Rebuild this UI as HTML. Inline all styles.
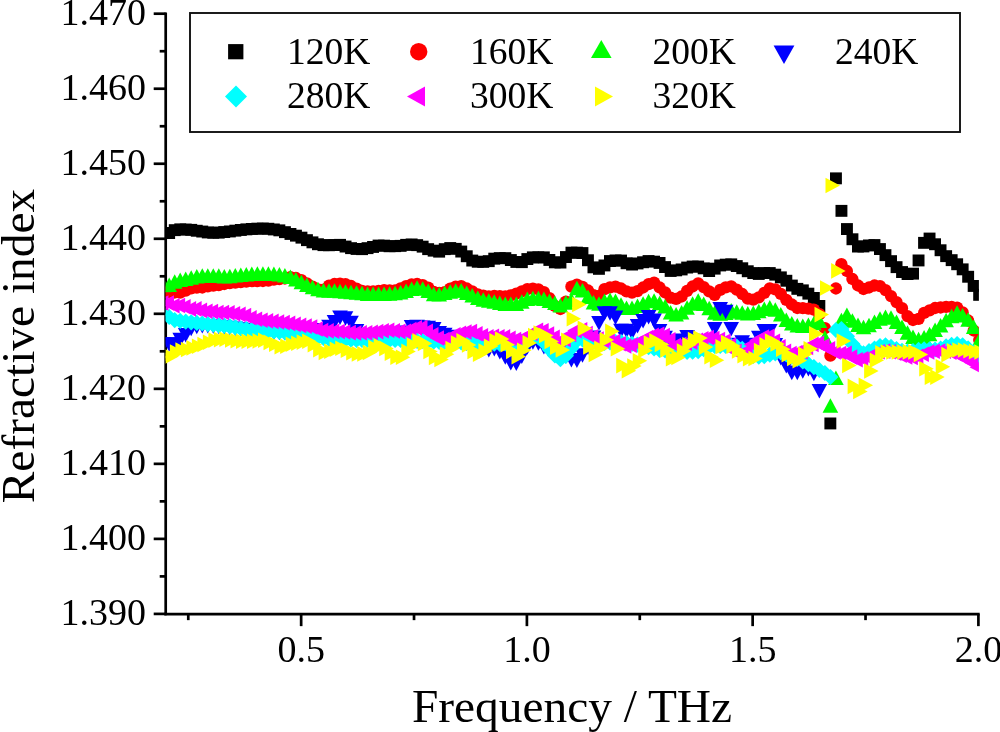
<!DOCTYPE html>
<html><head><meta charset="utf-8"><style>
html,body{margin:0;padding:0;background:#fff;}
body{width:1000px;height:732px;overflow:hidden;}
svg{display:block;}
.tl{font-family:"Liberation Serif",serif;font-size:38px;fill:#000;}
.al{font-family:"Liberation Serif",serif;font-size:47.4px;fill:#000;}
.lg{font-family:"Liberation Serif",serif;font-size:37.5px;fill:#000;}
</style></head><body>
<svg width="1000" height="732" viewBox="0 0 1000 732">
<defs><clipPath id="c"><rect x="165.7" y="0" width="813.20" height="612.8500000000006"/></clipPath></defs>
<line x1="165.7" y1="12.5" x2="165.7" y2="615.3500000000006" stroke="#000" stroke-width="2.7"/><line x1="164.39999999999998" y1="614.1500000000005" x2="979.6999999999999" y2="614.1500000000005" stroke="#000" stroke-width="2.7"/><line x1="153.7" y1="613.90" x2="165.7" y2="613.90" stroke="#000" stroke-width="2.7"/><text x="146" y="625.10" class="tl" text-anchor="end">1.390</text><line x1="153.7" y1="538.88" x2="165.7" y2="538.88" stroke="#000" stroke-width="2.7"/><text x="146" y="550.08" class="tl" text-anchor="end">1.400</text><line x1="153.7" y1="463.85" x2="165.7" y2="463.85" stroke="#000" stroke-width="2.7"/><text x="146" y="475.05" class="tl" text-anchor="end">1.410</text><line x1="153.7" y1="388.83" x2="165.7" y2="388.83" stroke="#000" stroke-width="2.7"/><text x="146" y="400.03" class="tl" text-anchor="end">1.420</text><line x1="153.7" y1="313.80" x2="165.7" y2="313.80" stroke="#000" stroke-width="2.7"/><text x="146" y="325.00" class="tl" text-anchor="end">1.430</text><line x1="153.7" y1="238.78" x2="165.7" y2="238.78" stroke="#000" stroke-width="2.7"/><text x="146" y="249.98" class="tl" text-anchor="end">1.440</text><line x1="153.7" y1="163.75" x2="165.7" y2="163.75" stroke="#000" stroke-width="2.7"/><text x="146" y="174.95" class="tl" text-anchor="end">1.450</text><line x1="153.7" y1="88.73" x2="165.7" y2="88.73" stroke="#000" stroke-width="2.7"/><text x="146" y="99.93" class="tl" text-anchor="end">1.460</text><line x1="153.7" y1="13.70" x2="165.7" y2="13.70" stroke="#000" stroke-width="2.7"/><text x="146" y="24.90" class="tl" text-anchor="end">1.470</text><line x1="159.7" y1="576.39" x2="165.7" y2="576.39" stroke="#000" stroke-width="2.7"/><line x1="159.7" y1="501.36" x2="165.7" y2="501.36" stroke="#000" stroke-width="2.7"/><line x1="159.7" y1="426.34" x2="165.7" y2="426.34" stroke="#000" stroke-width="2.7"/><line x1="159.7" y1="351.31" x2="165.7" y2="351.31" stroke="#000" stroke-width="2.7"/><line x1="159.7" y1="276.29" x2="165.7" y2="276.29" stroke="#000" stroke-width="2.7"/><line x1="159.7" y1="201.26" x2="165.7" y2="201.26" stroke="#000" stroke-width="2.7"/><line x1="159.7" y1="126.24" x2="165.7" y2="126.24" stroke="#000" stroke-width="2.7"/><line x1="159.7" y1="51.21" x2="165.7" y2="51.21" stroke="#000" stroke-width="2.7"/><line x1="301.15" y1="614.1500000000005" x2="301.15" y2="626.1500000000005" stroke="#000" stroke-width="2.7"/><text x="301.15" y="662" class="tl" text-anchor="middle">0.5</text><line x1="526.90" y1="614.1500000000005" x2="526.90" y2="626.1500000000005" stroke="#000" stroke-width="2.7"/><text x="526.90" y="662" class="tl" text-anchor="middle">1.0</text><line x1="752.65" y1="614.1500000000005" x2="752.65" y2="626.1500000000005" stroke="#000" stroke-width="2.7"/><text x="752.65" y="662" class="tl" text-anchor="middle">1.5</text><line x1="978.40" y1="614.1500000000005" x2="978.40" y2="626.1500000000005" stroke="#000" stroke-width="2.7"/><text x="978.40" y="662" class="tl" text-anchor="middle">2.0</text><line x1="188.27" y1="614.1500000000005" x2="188.27" y2="620.1500000000005" stroke="#000" stroke-width="2.7"/><line x1="414.03" y1="614.1500000000005" x2="414.03" y2="620.1500000000005" stroke="#000" stroke-width="2.7"/><line x1="639.77" y1="614.1500000000005" x2="639.77" y2="620.1500000000005" stroke="#000" stroke-width="2.7"/><line x1="865.53" y1="614.1500000000005" x2="865.53" y2="620.1500000000005" stroke="#000" stroke-width="2.7"/><text x="572" y="722" class="al" text-anchor="middle">Frequency / THz</text><text transform="translate(34,346) rotate(-90)" class="al" text-anchor="middle">Refractive index</text><rect x="190" y="13" width="770" height="119" fill="none" stroke="#111" stroke-width="1.9"/>
<g clip-path="url(#c)"><rect x="152.2" y="227.1" width="11.9" height="11.9" fill="#000"/><rect x="157.7" y="227.1" width="11.9" height="11.9" fill="#000"/><rect x="163.2" y="227.1" width="11.9" height="11.9" fill="#000"/><rect x="168.8" y="224.2" width="11.9" height="11.9" fill="#000"/><rect x="174.3" y="223.4" width="11.9" height="11.9" fill="#000"/><rect x="179.8" y="223.6" width="11.9" height="11.9" fill="#000"/><rect x="185.3" y="223.9" width="11.9" height="11.9" fill="#000"/><rect x="190.8" y="224.8" width="11.9" height="11.9" fill="#000"/><rect x="196.3" y="225.6" width="11.9" height="11.9" fill="#000"/><rect x="201.8" y="226.5" width="11.9" height="11.9" fill="#000"/><rect x="207.3" y="226.8" width="11.9" height="11.9" fill="#000"/><rect x="212.8" y="226.7" width="11.9" height="11.9" fill="#000"/><rect x="218.3" y="226.1" width="11.9" height="11.9" fill="#000"/><rect x="223.9" y="225.5" width="11.9" height="11.9" fill="#000"/><rect x="229.4" y="224.7" width="11.9" height="11.9" fill="#000"/><rect x="234.9" y="224.0" width="11.9" height="11.9" fill="#000"/><rect x="240.4" y="223.4" width="11.9" height="11.9" fill="#000"/><rect x="245.9" y="223.0" width="11.9" height="11.9" fill="#000"/><rect x="251.4" y="222.7" width="11.9" height="11.9" fill="#000"/><rect x="256.9" y="222.6" width="11.9" height="11.9" fill="#000"/><rect x="262.4" y="222.8" width="11.9" height="11.9" fill="#000"/><rect x="267.9" y="223.5" width="11.9" height="11.9" fill="#000"/><rect x="273.4" y="224.4" width="11.9" height="11.9" fill="#000"/><rect x="279.0" y="226.2" width="11.9" height="11.9" fill="#000"/><rect x="284.5" y="228.0" width="11.9" height="11.9" fill="#000"/><rect x="290.0" y="229.7" width="11.9" height="11.9" fill="#000"/><rect x="295.5" y="231.7" width="11.9" height="11.9" fill="#000"/><rect x="301.0" y="234.2" width="11.9" height="11.9" fill="#000"/><rect x="306.5" y="236.4" width="11.9" height="11.9" fill="#000"/><rect x="312.0" y="238.3" width="11.9" height="11.9" fill="#000"/><rect x="317.5" y="239.2" width="11.9" height="11.9" fill="#000"/><rect x="323.0" y="239.3" width="11.9" height="11.9" fill="#000"/><rect x="328.6" y="239.1" width="11.9" height="11.9" fill="#000"/><rect x="334.1" y="238.9" width="11.9" height="11.9" fill="#000"/><rect x="339.6" y="240.6" width="11.9" height="11.9" fill="#000"/><rect x="345.1" y="242.2" width="11.9" height="11.9" fill="#000"/><rect x="350.6" y="243.0" width="11.9" height="11.9" fill="#000"/><rect x="356.1" y="243.2" width="11.9" height="11.9" fill="#000"/><rect x="361.6" y="242.2" width="11.9" height="11.9" fill="#000"/><rect x="367.1" y="241.0" width="11.9" height="11.9" fill="#000"/><rect x="372.6" y="239.6" width="11.9" height="11.9" fill="#000"/><rect x="378.1" y="239.7" width="11.9" height="11.9" fill="#000"/><rect x="383.6" y="240.3" width="11.9" height="11.9" fill="#000"/><rect x="389.2" y="240.2" width="11.9" height="11.9" fill="#000"/><rect x="394.7" y="239.9" width="11.9" height="11.9" fill="#000"/><rect x="400.2" y="238.9" width="11.9" height="11.9" fill="#000"/><rect x="405.7" y="238.5" width="11.9" height="11.9" fill="#000"/><rect x="411.2" y="239.2" width="11.9" height="11.9" fill="#000"/><rect x="416.7" y="240.7" width="11.9" height="11.9" fill="#000"/><rect x="422.2" y="243.2" width="11.9" height="11.9" fill="#000"/><rect x="427.7" y="244.7" width="11.9" height="11.9" fill="#000"/><rect x="433.2" y="245.7" width="11.9" height="11.9" fill="#000"/><rect x="438.8" y="243.2" width="11.9" height="11.9" fill="#000"/><rect x="444.3" y="242.1" width="11.9" height="11.9" fill="#000"/><rect x="449.8" y="242.9" width="11.9" height="11.9" fill="#000"/><rect x="455.3" y="245.6" width="11.9" height="11.9" fill="#000"/><rect x="460.8" y="250.3" width="11.9" height="11.9" fill="#000"/><rect x="466.3" y="254.6" width="11.9" height="11.9" fill="#000"/><rect x="471.8" y="255.8" width="11.9" height="11.9" fill="#000"/><rect x="477.3" y="255.9" width="11.9" height="11.9" fill="#000"/><rect x="482.8" y="255.2" width="11.9" height="11.9" fill="#000"/><rect x="488.3" y="252.7" width="11.9" height="11.9" fill="#000"/><rect x="493.8" y="252.2" width="11.9" height="11.9" fill="#000"/><rect x="499.4" y="252.2" width="11.9" height="11.9" fill="#000"/><rect x="504.9" y="254.1" width="11.9" height="11.9" fill="#000"/><rect x="510.4" y="256.0" width="11.9" height="11.9" fill="#000"/><rect x="515.9" y="256.2" width="11.9" height="11.9" fill="#000"/><rect x="521.4" y="253.1" width="11.9" height="11.9" fill="#000"/><rect x="526.9" y="251.4" width="11.9" height="11.9" fill="#000"/><rect x="532.4" y="251.4" width="11.9" height="11.9" fill="#000"/><rect x="537.9" y="251.4" width="11.9" height="11.9" fill="#000"/><rect x="543.4" y="254.0" width="11.9" height="11.9" fill="#000"/><rect x="548.9" y="256.4" width="11.9" height="11.9" fill="#000"/><rect x="554.5" y="256.6" width="11.9" height="11.9" fill="#000"/><rect x="560.0" y="251.1" width="11.9" height="11.9" fill="#000"/><rect x="565.5" y="246.7" width="11.9" height="11.9" fill="#000"/><rect x="571.0" y="246.7" width="11.9" height="11.9" fill="#000"/><rect x="576.5" y="247.1" width="11.9" height="11.9" fill="#000"/><rect x="582.0" y="254.3" width="11.9" height="11.9" fill="#000"/><rect x="587.5" y="261.4" width="11.9" height="11.9" fill="#000"/><rect x="593.0" y="262.9" width="11.9" height="11.9" fill="#000"/><rect x="598.5" y="259.5" width="11.9" height="11.9" fill="#000"/><rect x="604.0" y="255.1" width="11.9" height="11.9" fill="#000"/><rect x="609.6" y="254.5" width="11.9" height="11.9" fill="#000"/><rect x="615.1" y="254.6" width="11.9" height="11.9" fill="#000"/><rect x="620.6" y="257.3" width="11.9" height="11.9" fill="#000"/><rect x="626.1" y="258.6" width="11.9" height="11.9" fill="#000"/><rect x="631.6" y="257.5" width="11.9" height="11.9" fill="#000"/><rect x="637.1" y="256.3" width="11.9" height="11.9" fill="#000"/><rect x="642.6" y="255.1" width="11.9" height="11.9" fill="#000"/><rect x="648.1" y="255.7" width="11.9" height="11.9" fill="#000"/><rect x="653.6" y="257.0" width="11.9" height="11.9" fill="#000"/><rect x="659.1" y="261.1" width="11.9" height="11.9" fill="#000"/><rect x="664.7" y="265.0" width="11.9" height="11.9" fill="#000"/><rect x="670.2" y="264.4" width="11.9" height="11.9" fill="#000"/><rect x="675.7" y="263.5" width="11.9" height="11.9" fill="#000"/><rect x="681.2" y="261.6" width="11.9" height="11.9" fill="#000"/><rect x="686.7" y="260.6" width="11.9" height="11.9" fill="#000"/><rect x="692.2" y="260.6" width="11.9" height="11.9" fill="#000"/><rect x="697.7" y="262.4" width="11.9" height="11.9" fill="#000"/><rect x="703.2" y="265.1" width="11.9" height="11.9" fill="#000"/><rect x="708.7" y="262.7" width="11.9" height="11.9" fill="#000"/><rect x="714.2" y="259.5" width="11.9" height="11.9" fill="#000"/><rect x="719.8" y="258.7" width="11.9" height="11.9" fill="#000"/><rect x="725.3" y="258.4" width="11.9" height="11.9" fill="#000"/><rect x="730.8" y="260.1" width="11.9" height="11.9" fill="#000"/><rect x="736.3" y="262.3" width="11.9" height="11.9" fill="#000"/><rect x="741.8" y="265.3" width="11.9" height="11.9" fill="#000"/><rect x="747.3" y="267.1" width="11.9" height="11.9" fill="#000"/><rect x="752.8" y="268.0" width="11.9" height="11.9" fill="#000"/><rect x="758.3" y="267.1" width="11.9" height="11.9" fill="#000"/><rect x="763.8" y="267.1" width="11.9" height="11.9" fill="#000"/><rect x="769.3" y="268.7" width="11.9" height="11.9" fill="#000"/><rect x="774.9" y="271.4" width="11.9" height="11.9" fill="#000"/><rect x="780.4" y="274.8" width="11.9" height="11.9" fill="#000"/><rect x="785.9" y="279.6" width="11.9" height="11.9" fill="#000"/><rect x="791.4" y="282.9" width="11.9" height="11.9" fill="#000"/><rect x="796.9" y="284.4" width="11.9" height="11.9" fill="#000"/><rect x="802.4" y="287.7" width="11.9" height="11.9" fill="#000"/><rect x="807.9" y="292.0" width="11.9" height="11.9" fill="#000"/><rect x="813.4" y="300.0" width="11.9" height="11.9" fill="#000"/><rect x="824.4" y="417.5" width="11.9" height="11.9" fill="#000"/><rect x="830.0" y="172.4" width="11.9" height="11.9" fill="#000"/><rect x="835.5" y="204.9" width="11.9" height="11.9" fill="#000"/><rect x="841.0" y="223.1" width="11.9" height="11.9" fill="#000"/><rect x="846.5" y="233.3" width="11.9" height="11.9" fill="#000"/><rect x="852.0" y="240.6" width="11.9" height="11.9" fill="#000"/><rect x="857.5" y="240.5" width="11.9" height="11.9" fill="#000"/><rect x="863.0" y="239.5" width="11.9" height="11.9" fill="#000"/><rect x="868.5" y="239.1" width="11.9" height="11.9" fill="#000"/><rect x="874.0" y="243.1" width="11.9" height="11.9" fill="#000"/><rect x="879.5" y="249.2" width="11.9" height="11.9" fill="#000"/><rect x="885.1" y="255.2" width="11.9" height="11.9" fill="#000"/><rect x="890.6" y="261.2" width="11.9" height="11.9" fill="#000"/><rect x="896.1" y="266.1" width="11.9" height="11.9" fill="#000"/><rect x="901.6" y="268.1" width="11.9" height="11.9" fill="#000"/><rect x="907.1" y="267.7" width="11.9" height="11.9" fill="#000"/><rect x="912.6" y="254.5" width="11.9" height="11.9" fill="#000"/><rect x="918.1" y="236.9" width="11.9" height="11.9" fill="#000"/><rect x="923.6" y="232.6" width="11.9" height="11.9" fill="#000"/><rect x="929.1" y="238.3" width="11.9" height="11.9" fill="#000"/><rect x="934.6" y="244.3" width="11.9" height="11.9" fill="#000"/><rect x="940.2" y="250.2" width="11.9" height="11.9" fill="#000"/><rect x="945.7" y="254.2" width="11.9" height="11.9" fill="#000"/><rect x="951.2" y="258.3" width="11.9" height="11.9" fill="#000"/><rect x="956.7" y="263.4" width="11.9" height="11.9" fill="#000"/><rect x="962.2" y="270.8" width="11.9" height="11.9" fill="#000"/><rect x="967.7" y="280.0" width="11.9" height="11.9" fill="#000"/><rect x="973.2" y="288.9" width="11.9" height="11.9" fill="#000"/>
<circle cx="158.2" cy="292.0" r="6.15" fill="#f00"/><circle cx="163.7" cy="292.0" r="6.15" fill="#f00"/><circle cx="169.2" cy="292.0" r="6.15" fill="#f00"/><circle cx="174.7" cy="292.5" r="6.15" fill="#f00"/><circle cx="180.2" cy="292.6" r="6.15" fill="#f00"/><circle cx="185.7" cy="290.7" r="6.15" fill="#f00"/><circle cx="191.2" cy="288.4" r="6.15" fill="#f00"/><circle cx="196.8" cy="287.7" r="6.15" fill="#f00"/><circle cx="202.3" cy="287.5" r="6.15" fill="#f00"/><circle cx="207.8" cy="286.4" r="6.15" fill="#f00"/><circle cx="213.3" cy="285.7" r="6.15" fill="#f00"/><circle cx="218.8" cy="285.1" r="6.15" fill="#f00"/><circle cx="224.3" cy="284.0" r="6.15" fill="#f00"/><circle cx="229.8" cy="283.2" r="6.15" fill="#f00"/><circle cx="235.3" cy="282.7" r="6.15" fill="#f00"/><circle cx="240.8" cy="282.2" r="6.15" fill="#f00"/><circle cx="246.3" cy="281.6" r="6.15" fill="#f00"/><circle cx="251.8" cy="281.2" r="6.15" fill="#f00"/><circle cx="257.4" cy="281.2" r="6.15" fill="#f00"/><circle cx="262.9" cy="281.0" r="6.15" fill="#f00"/><circle cx="268.4" cy="280.6" r="6.15" fill="#f00"/><circle cx="273.9" cy="279.7" r="6.15" fill="#f00"/><circle cx="279.4" cy="279.1" r="6.15" fill="#f00"/><circle cx="284.9" cy="278.5" r="6.15" fill="#f00"/><circle cx="290.4" cy="277.2" r="6.15" fill="#f00"/><circle cx="295.9" cy="278.0" r="6.15" fill="#f00"/><circle cx="301.4" cy="280.1" r="6.15" fill="#f00"/><circle cx="306.9" cy="283.4" r="6.15" fill="#f00"/><circle cx="312.5" cy="286.6" r="6.15" fill="#f00"/><circle cx="318.0" cy="289.5" r="6.15" fill="#f00"/><circle cx="323.5" cy="289.7" r="6.15" fill="#f00"/><circle cx="329.0" cy="285.7" r="6.15" fill="#f00"/><circle cx="334.5" cy="284.0" r="6.15" fill="#f00"/><circle cx="340.0" cy="283.6" r="6.15" fill="#f00"/><circle cx="345.5" cy="284.1" r="6.15" fill="#f00"/><circle cx="351.0" cy="286.0" r="6.15" fill="#f00"/><circle cx="356.5" cy="288.6" r="6.15" fill="#f00"/><circle cx="362.0" cy="291.0" r="6.15" fill="#f00"/><circle cx="367.6" cy="291.5" r="6.15" fill="#f00"/><circle cx="373.1" cy="291.4" r="6.15" fill="#f00"/><circle cx="378.6" cy="290.8" r="6.15" fill="#f00"/><circle cx="384.1" cy="290.2" r="6.15" fill="#f00"/><circle cx="389.6" cy="290.4" r="6.15" fill="#f00"/><circle cx="395.1" cy="290.5" r="6.15" fill="#f00"/><circle cx="400.6" cy="288.3" r="6.15" fill="#f00"/><circle cx="406.1" cy="286.2" r="6.15" fill="#f00"/><circle cx="411.6" cy="284.3" r="6.15" fill="#f00"/><circle cx="417.1" cy="284.0" r="6.15" fill="#f00"/><circle cx="422.7" cy="285.2" r="6.15" fill="#f00"/><circle cx="428.2" cy="287.6" r="6.15" fill="#f00"/><circle cx="433.7" cy="291.9" r="6.15" fill="#f00"/><circle cx="439.2" cy="293.0" r="6.15" fill="#f00"/><circle cx="444.7" cy="292.1" r="6.15" fill="#f00"/><circle cx="450.2" cy="288.7" r="6.15" fill="#f00"/><circle cx="455.7" cy="286.7" r="6.15" fill="#f00"/><circle cx="461.2" cy="286.1" r="6.15" fill="#f00"/><circle cx="466.7" cy="288.5" r="6.15" fill="#f00"/><circle cx="472.2" cy="291.4" r="6.15" fill="#f00"/><circle cx="477.8" cy="294.3" r="6.15" fill="#f00"/><circle cx="483.3" cy="295.6" r="6.15" fill="#f00"/><circle cx="488.8" cy="296.5" r="6.15" fill="#f00"/><circle cx="494.3" cy="296.0" r="6.15" fill="#f00"/><circle cx="499.8" cy="296.1" r="6.15" fill="#f00"/><circle cx="505.3" cy="296.5" r="6.15" fill="#f00"/><circle cx="510.8" cy="295.4" r="6.15" fill="#f00"/><circle cx="516.3" cy="293.6" r="6.15" fill="#f00"/><circle cx="521.8" cy="291.4" r="6.15" fill="#f00"/><circle cx="527.3" cy="289.2" r="6.15" fill="#f00"/><circle cx="532.9" cy="288.7" r="6.15" fill="#f00"/><circle cx="538.4" cy="289.4" r="6.15" fill="#f00"/><circle cx="543.9" cy="292.2" r="6.15" fill="#f00"/><circle cx="549.4" cy="298.1" r="6.15" fill="#f00"/><circle cx="554.9" cy="306.0" r="6.15" fill="#f00"/><circle cx="560.4" cy="309.0" r="6.15" fill="#f00"/><circle cx="565.9" cy="301.7" r="6.15" fill="#f00"/><circle cx="571.4" cy="286.7" r="6.15" fill="#f00"/><circle cx="576.9" cy="284.7" r="6.15" fill="#f00"/><circle cx="582.5" cy="286.9" r="6.15" fill="#f00"/><circle cx="588.0" cy="290.5" r="6.15" fill="#f00"/><circle cx="593.5" cy="295.2" r="6.15" fill="#f00"/><circle cx="599.0" cy="296.0" r="6.15" fill="#f00"/><circle cx="604.5" cy="289.2" r="6.15" fill="#f00"/><circle cx="610.0" cy="287.3" r="6.15" fill="#f00"/><circle cx="615.5" cy="286.7" r="6.15" fill="#f00"/><circle cx="621.0" cy="288.5" r="6.15" fill="#f00"/><circle cx="626.5" cy="291.3" r="6.15" fill="#f00"/><circle cx="632.0" cy="292.7" r="6.15" fill="#f00"/><circle cx="637.5" cy="291.1" r="6.15" fill="#f00"/><circle cx="643.1" cy="287.5" r="6.15" fill="#f00"/><circle cx="648.6" cy="284.2" r="6.15" fill="#f00"/><circle cx="654.1" cy="282.7" r="6.15" fill="#f00"/><circle cx="659.6" cy="287.5" r="6.15" fill="#f00"/><circle cx="665.1" cy="292.3" r="6.15" fill="#f00"/><circle cx="670.6" cy="297.7" r="6.15" fill="#f00"/><circle cx="676.1" cy="298.9" r="6.15" fill="#f00"/><circle cx="681.6" cy="296.5" r="6.15" fill="#f00"/><circle cx="687.1" cy="290.9" r="6.15" fill="#f00"/><circle cx="692.6" cy="286.5" r="6.15" fill="#f00"/><circle cx="698.2" cy="283.3" r="6.15" fill="#f00"/><circle cx="703.7" cy="287.1" r="6.15" fill="#f00"/><circle cx="709.2" cy="291.4" r="6.15" fill="#f00"/><circle cx="714.7" cy="294.8" r="6.15" fill="#f00"/><circle cx="720.2" cy="289.9" r="6.15" fill="#f00"/><circle cx="725.7" cy="287.3" r="6.15" fill="#f00"/><circle cx="731.2" cy="286.3" r="6.15" fill="#f00"/><circle cx="736.7" cy="289.6" r="6.15" fill="#f00"/><circle cx="742.2" cy="294.0" r="6.15" fill="#f00"/><circle cx="747.8" cy="298.7" r="6.15" fill="#f00"/><circle cx="753.3" cy="299.7" r="6.15" fill="#f00"/><circle cx="758.8" cy="297.4" r="6.15" fill="#f00"/><circle cx="764.3" cy="292.8" r="6.15" fill="#f00"/><circle cx="769.8" cy="288.4" r="6.15" fill="#f00"/><circle cx="775.3" cy="289.3" r="6.15" fill="#f00"/><circle cx="780.8" cy="293.8" r="6.15" fill="#f00"/><circle cx="786.3" cy="299.8" r="6.15" fill="#f00"/><circle cx="791.8" cy="304.5" r="6.15" fill="#f00"/><circle cx="797.3" cy="308.0" r="6.15" fill="#f00"/><circle cx="802.8" cy="308.2" r="6.15" fill="#f00"/><circle cx="808.4" cy="308.7" r="6.15" fill="#f00"/><circle cx="813.9" cy="309.6" r="6.15" fill="#f00"/><circle cx="819.4" cy="314.2" r="6.15" fill="#f00"/><circle cx="824.9" cy="328.2" r="6.15" fill="#f00"/><circle cx="830.4" cy="355.7" r="6.15" fill="#f00"/><circle cx="835.9" cy="288.5" r="6.15" fill="#f00"/><circle cx="841.4" cy="264.2" r="6.15" fill="#f00"/><circle cx="846.9" cy="271.0" r="6.15" fill="#f00"/><circle cx="852.4" cy="279.0" r="6.15" fill="#f00"/><circle cx="858.0" cy="285.5" r="6.15" fill="#f00"/><circle cx="863.5" cy="289.0" r="6.15" fill="#f00"/><circle cx="869.0" cy="287.5" r="6.15" fill="#f00"/><circle cx="874.5" cy="285.5" r="6.15" fill="#f00"/><circle cx="880.0" cy="286.1" r="6.15" fill="#f00"/><circle cx="885.5" cy="290.1" r="6.15" fill="#f00"/><circle cx="891.0" cy="296.1" r="6.15" fill="#f00"/><circle cx="896.5" cy="302.1" r="6.15" fill="#f00"/><circle cx="902.0" cy="308.2" r="6.15" fill="#f00"/><circle cx="907.5" cy="316.1" r="6.15" fill="#f00"/><circle cx="913.0" cy="320.0" r="6.15" fill="#f00"/><circle cx="918.6" cy="318.8" r="6.15" fill="#f00"/><circle cx="924.1" cy="312.9" r="6.15" fill="#f00"/><circle cx="929.6" cy="310.4" r="6.15" fill="#f00"/><circle cx="935.1" cy="308.0" r="6.15" fill="#f00"/><circle cx="940.6" cy="307.5" r="6.15" fill="#f00"/><circle cx="946.1" cy="306.8" r="6.15" fill="#f00"/><circle cx="951.6" cy="306.8" r="6.15" fill="#f00"/><circle cx="957.1" cy="307.7" r="6.15" fill="#f00"/><circle cx="962.6" cy="312.3" r="6.15" fill="#f00"/><circle cx="968.1" cy="320.5" r="6.15" fill="#f00"/><circle cx="973.7" cy="330.5" r="6.15" fill="#f00"/><circle cx="979.2" cy="340.0" r="6.15" fill="#f00"/>
<polygon points="158.2,277.8 166.0,292.2 150.4,292.2" fill="#0f0"/><polygon points="163.7,277.8 171.5,292.2 155.9,292.2" fill="#0f0"/><polygon points="169.2,277.6 177.0,292.1 161.4,292.1" fill="#0f0"/><polygon points="174.7,274.2 182.5,288.7 166.9,288.7" fill="#0f0"/><polygon points="180.2,272.4 188.0,286.9 172.4,286.9" fill="#0f0"/><polygon points="185.7,271.4 193.5,285.9 177.9,285.9" fill="#0f0"/><polygon points="191.2,270.2 199.0,284.7 183.4,284.7" fill="#0f0"/><polygon points="196.8,269.1 204.6,283.6 188.9,283.6" fill="#0f0"/><polygon points="202.3,268.2 210.1,282.8 194.5,282.8" fill="#0f0"/><polygon points="207.8,268.2 215.6,282.8 200.0,282.8" fill="#0f0"/><polygon points="213.3,268.2 221.1,282.8 205.5,282.8" fill="#0f0"/><polygon points="218.8,268.3 226.6,282.8 211.0,282.8" fill="#0f0"/><polygon points="224.3,268.9 232.1,283.4 216.5,283.4" fill="#0f0"/><polygon points="229.8,268.7 237.6,283.2 222.0,283.2" fill="#0f0"/><polygon points="235.3,268.1 243.1,282.6 227.5,282.6" fill="#0f0"/><polygon points="240.8,267.5 248.6,282.0 233.0,282.0" fill="#0f0"/><polygon points="246.3,267.0 254.1,281.5 238.5,281.5" fill="#0f0"/><polygon points="251.8,266.5 259.6,281.0 244.0,281.0" fill="#0f0"/><polygon points="257.4,266.3 265.2,280.8 249.6,280.8" fill="#0f0"/><polygon points="262.9,266.2 270.7,280.8 255.1,280.8" fill="#0f0"/><polygon points="268.4,266.3 276.2,280.8 260.6,280.8" fill="#0f0"/><polygon points="273.9,266.5 281.7,281.0 266.1,281.0" fill="#0f0"/><polygon points="279.4,267.1 287.2,281.6 271.6,281.6" fill="#0f0"/><polygon points="284.9,268.1 292.7,282.6 277.1,282.6" fill="#0f0"/><polygon points="290.4,269.5 298.2,284.0 282.6,284.0" fill="#0f0"/><polygon points="295.9,271.9 303.7,286.4 288.1,286.4" fill="#0f0"/><polygon points="301.4,274.7 309.2,289.2 293.6,289.2" fill="#0f0"/><polygon points="306.9,277.4 314.8,291.9 299.1,291.9" fill="#0f0"/><polygon points="312.5,279.7 320.3,294.2 304.7,294.2" fill="#0f0"/><polygon points="318.0,281.7 325.8,296.2 310.2,296.2" fill="#0f0"/><polygon points="323.5,282.9 331.3,297.4 315.7,297.4" fill="#0f0"/><polygon points="329.0,283.3 336.8,297.8 321.2,297.8" fill="#0f0"/><polygon points="334.5,283.3 342.3,297.8 326.7,297.8" fill="#0f0"/><polygon points="340.0,283.7 347.8,298.2 332.2,298.2" fill="#0f0"/><polygon points="345.5,284.2 353.3,298.7 337.7,298.7" fill="#0f0"/><polygon points="351.0,284.8 358.8,299.3 343.2,299.3" fill="#0f0"/><polygon points="356.5,285.3 364.3,299.8 348.7,299.8" fill="#0f0"/><polygon points="362.0,285.8 369.8,300.3 354.2,300.3" fill="#0f0"/><polygon points="367.6,286.4 375.4,300.9 359.8,300.9" fill="#0f0"/><polygon points="373.1,286.6 380.9,301.1 365.3,301.1" fill="#0f0"/><polygon points="378.6,286.6 386.4,301.1 370.8,301.1" fill="#0f0"/><polygon points="384.1,286.6 391.9,301.1 376.3,301.1" fill="#0f0"/><polygon points="389.6,286.3 397.4,300.8 381.8,300.8" fill="#0f0"/><polygon points="395.1,285.7 402.9,300.2 387.3,300.2" fill="#0f0"/><polygon points="400.6,285.1 408.4,299.6 392.8,299.6" fill="#0f0"/><polygon points="406.1,283.5 413.9,298.0 398.3,298.0" fill="#0f0"/><polygon points="411.6,281.5 419.4,296.0 403.8,296.0" fill="#0f0"/><polygon points="417.1,280.3 424.9,294.8 409.3,294.8" fill="#0f0"/><polygon points="422.7,281.2 430.5,295.7 414.9,295.7" fill="#0f0"/><polygon points="428.2,283.5 436.0,298.0 420.4,298.0" fill="#0f0"/><polygon points="433.7,286.8 441.5,301.3 425.9,301.3" fill="#0f0"/><polygon points="439.2,286.9 447.0,301.4 431.4,301.4" fill="#0f0"/><polygon points="444.7,285.6 452.5,300.1 436.9,300.1" fill="#0f0"/><polygon points="450.2,284.2 458.0,298.7 442.4,298.7" fill="#0f0"/><polygon points="455.7,283.2 463.5,297.7 447.9,297.7" fill="#0f0"/><polygon points="461.2,283.1 469.0,297.6 453.4,297.6" fill="#0f0"/><polygon points="466.7,285.5 474.5,300.0 458.9,300.0" fill="#0f0"/><polygon points="472.2,288.1 480.1,302.6 464.4,302.6" fill="#0f0"/><polygon points="477.8,290.6 485.6,305.1 470.0,305.1" fill="#0f0"/><polygon points="483.3,292.2 491.1,306.7 475.5,306.7" fill="#0f0"/><polygon points="488.8,293.3 496.6,307.8 481.0,307.8" fill="#0f0"/><polygon points="494.3,294.2 502.1,308.7 486.5,308.7" fill="#0f0"/><polygon points="499.8,295.5 507.6,310.0 492.0,310.0" fill="#0f0"/><polygon points="505.3,296.6 513.1,311.1 497.5,311.1" fill="#0f0"/><polygon points="510.8,296.6 518.6,311.1 503.0,311.1" fill="#0f0"/><polygon points="516.3,296.6 524.1,311.1 508.5,311.1" fill="#0f0"/><polygon points="521.8,294.3 529.6,308.8 514.0,308.8" fill="#0f0"/><polygon points="527.3,291.6 535.1,306.1 519.5,306.1" fill="#0f0"/><polygon points="532.9,290.8 540.7,305.2 525.1,305.2" fill="#0f0"/><polygon points="538.4,290.8 546.2,305.2 530.6,305.2" fill="#0f0"/><polygon points="543.9,291.6 551.7,306.1 536.1,306.1" fill="#0f0"/><polygon points="549.4,293.5 557.2,308.0 541.6,308.0" fill="#0f0"/><polygon points="554.9,295.6 562.7,310.1 547.1,310.1" fill="#0f0"/><polygon points="560.4,297.9 568.2,312.4 552.6,312.4" fill="#0f0"/><polygon points="565.9,295.2 573.7,309.7 558.1,309.7" fill="#0f0"/><polygon points="571.4,292.4 579.2,306.9 563.6,306.9" fill="#0f0"/><polygon points="576.9,280.7 584.7,295.2 569.1,295.2" fill="#0f0"/><polygon points="582.5,282.9 590.2,297.4 574.7,297.4" fill="#0f0"/><polygon points="588.0,289.6 595.8,304.1 580.2,304.1" fill="#0f0"/><polygon points="593.5,294.9 601.3,309.4 585.7,309.4" fill="#0f0"/><polygon points="599.0,296.2 606.8,310.7 591.2,310.7" fill="#0f0"/><polygon points="604.5,293.6 612.3,308.1 596.7,308.1" fill="#0f0"/><polygon points="610.0,292.5 617.8,307.0 602.2,307.0" fill="#0f0"/><polygon points="615.5,293.6 623.3,308.1 607.7,308.1" fill="#0f0"/><polygon points="621.0,297.2 628.8,311.7 613.2,311.7" fill="#0f0"/><polygon points="626.5,300.6 634.3,315.1 618.7,315.1" fill="#0f0"/><polygon points="632.0,300.6 639.8,315.1 624.2,315.1" fill="#0f0"/><polygon points="637.5,298.4 645.3,312.9 629.8,312.9" fill="#0f0"/><polygon points="643.1,296.2 650.9,310.7 635.3,310.7" fill="#0f0"/><polygon points="648.6,293.8 656.4,308.3 640.8,308.3" fill="#0f0"/><polygon points="654.1,293.2 661.9,307.7 646.3,307.7" fill="#0f0"/><polygon points="659.6,295.8 667.4,310.3 651.8,310.3" fill="#0f0"/><polygon points="665.1,299.1 672.9,313.6 657.3,313.6" fill="#0f0"/><polygon points="670.6,305.0 678.4,319.5 662.8,319.5" fill="#0f0"/><polygon points="676.1,306.9 683.9,321.4 668.3,321.4" fill="#0f0"/><polygon points="681.6,305.1 689.4,319.6 673.8,319.6" fill="#0f0"/><polygon points="687.1,300.2 694.9,314.7 679.3,314.7" fill="#0f0"/><polygon points="692.6,296.3 700.4,310.8 684.8,310.8" fill="#0f0"/><polygon points="698.2,293.3 706.0,307.8 690.4,307.8" fill="#0f0"/><polygon points="703.7,296.4 711.5,310.9 695.9,310.9" fill="#0f0"/><polygon points="709.2,300.7 717.0,315.2 701.4,315.2" fill="#0f0"/><polygon points="714.7,305.3 722.5,319.8 706.9,319.8" fill="#0f0"/><polygon points="720.2,306.3 728.0,320.8 712.4,320.8" fill="#0f0"/><polygon points="725.7,305.4 733.5,319.9 717.9,319.9" fill="#0f0"/><polygon points="731.2,303.1 739.0,317.6 723.4,317.6" fill="#0f0"/><polygon points="736.7,304.3 744.5,318.8 728.9,318.8" fill="#0f0"/><polygon points="742.2,305.3 750.0,319.8 734.4,319.8" fill="#0f0"/><polygon points="747.8,306.0 755.5,320.5 740.0,320.5" fill="#0f0"/><polygon points="753.3,305.4 761.1,319.9 745.5,319.9" fill="#0f0"/><polygon points="758.8,303.7 766.6,318.2 751.0,318.2" fill="#0f0"/><polygon points="764.3,301.4 772.1,315.9 756.5,315.9" fill="#0f0"/><polygon points="769.8,300.0 777.6,314.5 762.0,314.5" fill="#0f0"/><polygon points="775.3,302.2 783.1,316.7 767.5,316.7" fill="#0f0"/><polygon points="780.8,306.9 788.6,321.4 773.0,321.4" fill="#0f0"/><polygon points="786.3,312.4 794.1,326.9 778.5,326.9" fill="#0f0"/><polygon points="791.8,315.9 799.6,330.4 784.0,330.4" fill="#0f0"/><polygon points="797.3,318.0 805.1,332.5 789.5,332.5" fill="#0f0"/><polygon points="802.8,318.5 810.6,333.0 795.0,333.0" fill="#0f0"/><polygon points="808.4,317.6 816.2,332.1 800.6,332.1" fill="#0f0"/><polygon points="813.9,315.8 821.7,330.3 806.1,330.3" fill="#0f0"/><polygon points="819.4,313.5 827.2,328.0 811.6,328.0" fill="#0f0"/><polygon points="824.9,330.2 832.7,344.7 817.1,344.7" fill="#0f0"/><polygon points="830.4,398.2 838.2,412.7 822.6,412.7" fill="#0f0"/><polygon points="835.9,370.4 843.7,384.9 828.1,384.9" fill="#0f0"/><polygon points="841.4,312.7 849.2,327.2 833.6,327.2" fill="#0f0"/><polygon points="846.9,307.5 854.7,322.0 839.1,322.0" fill="#0f0"/><polygon points="852.4,313.3 860.2,327.8 844.6,327.8" fill="#0f0"/><polygon points="858.0,317.5 865.8,332.0 850.2,332.0" fill="#0f0"/><polygon points="863.5,319.7 871.3,334.2 855.7,334.2" fill="#0f0"/><polygon points="869.0,317.8 876.8,332.3 861.2,332.3" fill="#0f0"/><polygon points="874.5,314.5 882.3,329.0 866.7,329.0" fill="#0f0"/><polygon points="880.0,311.2 887.8,325.7 872.2,325.7" fill="#0f0"/><polygon points="885.5,309.6 893.3,324.1 877.7,324.1" fill="#0f0"/><polygon points="891.0,310.3 898.8,324.8 883.2,324.8" fill="#0f0"/><polygon points="896.5,314.4 904.3,328.9 888.7,328.9" fill="#0f0"/><polygon points="902.0,319.6 909.8,334.1 894.2,334.1" fill="#0f0"/><polygon points="907.5,325.2 915.3,339.7 899.7,339.7" fill="#0f0"/><polygon points="913.0,329.5 920.8,344.0 905.2,344.0" fill="#0f0"/><polygon points="918.6,331.7 926.4,346.2 910.8,346.2" fill="#0f0"/><polygon points="924.1,330.1 931.9,344.6 916.3,344.6" fill="#0f0"/><polygon points="929.6,326.7 937.4,341.2 921.8,341.2" fill="#0f0"/><polygon points="935.1,322.5 942.9,337.0 927.3,337.0" fill="#0f0"/><polygon points="940.6,318.0 948.4,332.5 932.8,332.5" fill="#0f0"/><polygon points="946.1,312.8 953.9,327.3 938.3,327.3" fill="#0f0"/><polygon points="951.6,308.7 959.4,323.2 943.8,323.2" fill="#0f0"/><polygon points="957.1,305.2 964.9,319.7 949.3,319.7" fill="#0f0"/><polygon points="962.6,308.0 970.4,322.5 954.8,322.5" fill="#0f0"/><polygon points="968.1,312.3 975.9,326.8 960.3,326.8" fill="#0f0"/><polygon points="973.7,319.4 981.5,333.9 965.9,333.9" fill="#0f0"/><polygon points="979.2,332.8 987.0,347.2 971.4,347.2" fill="#0f0"/>
<polygon points="150.4,337.2 166.0,337.2 158.2,351.8" fill="#00f"/><polygon points="155.9,337.2 171.5,337.2 163.7,351.8" fill="#00f"/><polygon points="161.4,337.2 177.0,337.2 169.2,351.8" fill="#00f"/><polygon points="166.9,337.2 182.5,337.2 174.7,351.7" fill="#00f"/><polygon points="172.4,332.7 188.0,332.7 180.2,347.2" fill="#00f"/><polygon points="177.9,328.0 193.5,328.0 185.7,342.5" fill="#00f"/><polygon points="183.4,321.7 199.0,321.7 191.2,336.2" fill="#00f"/><polygon points="188.9,319.8 204.6,319.8 196.8,334.3" fill="#00f"/><polygon points="194.5,319.1 210.1,319.1 202.3,333.6" fill="#00f"/><polygon points="200.0,319.1 215.6,319.1 207.8,333.6" fill="#00f"/><polygon points="205.5,319.2 221.1,319.2 213.3,333.7" fill="#00f"/><polygon points="211.0,319.7 226.6,319.7 218.8,334.2" fill="#00f"/><polygon points="216.5,320.2 232.1,320.2 224.3,334.7" fill="#00f"/><polygon points="222.0,320.7 237.6,320.7 229.8,335.2" fill="#00f"/><polygon points="227.5,321.5 243.1,321.5 235.3,336.0" fill="#00f"/><polygon points="233.0,322.2 248.6,322.2 240.8,336.7" fill="#00f"/><polygon points="238.5,322.9 254.1,322.9 246.3,337.4" fill="#00f"/><polygon points="244.0,323.7 259.6,323.7 251.8,338.2" fill="#00f"/><polygon points="249.6,324.4 265.2,324.4 257.4,338.9" fill="#00f"/><polygon points="255.1,324.9 270.7,324.9 262.9,339.4" fill="#00f"/><polygon points="260.6,325.2 276.2,325.2 268.4,339.7" fill="#00f"/><polygon points="266.1,325.4 281.7,325.4 273.9,339.9" fill="#00f"/><polygon points="271.6,325.7 287.2,325.7 279.4,340.2" fill="#00f"/><polygon points="277.1,326.0 292.7,326.0 284.9,340.5" fill="#00f"/><polygon points="282.6,326.3 298.2,326.3 290.4,340.8" fill="#00f"/><polygon points="288.1,326.5 303.7,326.5 295.9,341.0" fill="#00f"/><polygon points="293.6,326.5 309.2,326.5 301.4,341.0" fill="#00f"/><polygon points="299.1,325.6 314.8,325.6 306.9,340.1" fill="#00f"/><polygon points="304.7,324.8 320.3,324.8 312.5,339.3" fill="#00f"/><polygon points="310.2,323.9 325.8,323.9 318.0,338.4" fill="#00f"/><polygon points="315.7,323.0 331.3,323.0 323.5,337.5" fill="#00f"/><polygon points="321.2,319.8 336.8,319.8 329.0,334.3" fill="#00f"/><polygon points="326.7,315.0 342.3,315.0 334.5,329.5" fill="#00f"/><polygon points="332.2,310.6 347.8,310.6 340.0,325.1" fill="#00f"/><polygon points="337.7,311.2 353.3,311.2 345.5,325.7" fill="#00f"/><polygon points="343.2,315.7 358.8,315.7 351.0,330.2" fill="#00f"/><polygon points="348.7,324.1 364.3,324.1 356.5,338.6" fill="#00f"/><polygon points="354.2,328.5 369.8,328.5 362.0,343.0" fill="#00f"/><polygon points="359.8,329.8 375.4,329.8 367.6,344.2" fill="#00f"/><polygon points="365.3,329.8 380.9,329.8 373.1,344.2" fill="#00f"/><polygon points="370.8,329.8 386.4,329.8 378.6,344.2" fill="#00f"/><polygon points="376.3,329.8 391.9,329.8 384.1,344.2" fill="#00f"/><polygon points="381.8,329.8 397.4,329.8 389.6,344.2" fill="#00f"/><polygon points="387.3,329.8 402.9,329.8 395.1,344.2" fill="#00f"/><polygon points="392.8,329.3 408.4,329.3 400.6,343.8" fill="#00f"/><polygon points="398.3,325.6 413.9,325.6 406.1,340.1" fill="#00f"/><polygon points="403.8,320.1 419.4,320.1 411.6,334.6" fill="#00f"/><polygon points="409.3,319.8 424.9,319.8 417.1,334.2" fill="#00f"/><polygon points="414.9,320.5 430.5,320.5 422.7,335.0" fill="#00f"/><polygon points="420.4,320.8 436.0,320.8 428.2,335.2" fill="#00f"/><polygon points="425.9,322.1 441.5,322.1 433.7,336.6" fill="#00f"/><polygon points="431.4,326.1 447.0,326.1 439.2,340.6" fill="#00f"/><polygon points="436.9,327.7 452.5,327.7 444.7,342.2" fill="#00f"/><polygon points="442.4,329.8 458.0,329.8 450.2,344.3" fill="#00f"/><polygon points="447.9,332.0 463.5,332.0 455.7,346.5" fill="#00f"/><polygon points="453.4,334.2 469.0,334.2 461.2,348.7" fill="#00f"/><polygon points="458.9,336.4 474.5,336.4 466.7,350.9" fill="#00f"/><polygon points="464.4,338.4 480.1,338.4 472.2,352.9" fill="#00f"/><polygon points="470.0,340.0 485.6,340.0 477.8,354.5" fill="#00f"/><polygon points="475.5,341.6 491.1,341.6 483.3,356.1" fill="#00f"/><polygon points="481.0,343.1 496.6,343.1 488.8,357.6" fill="#00f"/><polygon points="486.5,342.1 502.1,342.1 494.3,356.6" fill="#00f"/><polygon points="492.0,345.0 507.6,345.0 499.8,359.5" fill="#00f"/><polygon points="497.5,350.2 513.1,350.2 505.3,364.7" fill="#00f"/><polygon points="503.0,356.1 518.6,356.1 510.8,370.6" fill="#00f"/><polygon points="508.5,356.5 524.1,356.5 516.3,371.0" fill="#00f"/><polygon points="514.0,349.4 529.6,349.4 521.8,363.9" fill="#00f"/><polygon points="519.5,340.2 535.1,340.2 527.3,354.7" fill="#00f"/><polygon points="525.1,335.3 540.7,335.3 532.9,349.8" fill="#00f"/><polygon points="530.6,336.3 546.2,336.3 538.4,350.8" fill="#00f"/><polygon points="536.1,340.0 551.7,340.0 543.9,354.5" fill="#00f"/><polygon points="541.6,341.9 557.2,341.9 549.4,356.4" fill="#00f"/><polygon points="547.1,343.4 562.7,343.4 554.9,357.9" fill="#00f"/><polygon points="552.6,345.1 568.2,345.1 560.4,359.6" fill="#00f"/><polygon points="558.1,349.2 573.7,349.2 565.9,363.7" fill="#00f"/><polygon points="563.6,353.1 579.2,353.1 571.4,367.6" fill="#00f"/><polygon points="569.1,353.6 584.7,353.6 576.9,368.1" fill="#00f"/><polygon points="574.7,348.2 590.2,348.2 582.5,362.7" fill="#00f"/><polygon points="580.2,340.6 595.8,340.6 588.0,355.1" fill="#00f"/><polygon points="585.7,330.4 601.3,330.4 593.5,344.9" fill="#00f"/><polygon points="591.2,316.0 606.8,316.0 599.0,330.5" fill="#00f"/><polygon points="596.7,306.2 612.3,306.2 604.5,320.8" fill="#00f"/><polygon points="602.2,306.2 617.8,306.2 610.0,320.8" fill="#00f"/><polygon points="607.7,310.4 623.3,310.4 615.5,324.9" fill="#00f"/><polygon points="613.2,323.8 628.8,323.8 621.0,338.2" fill="#00f"/><polygon points="618.7,323.8 634.3,323.8 626.5,338.2" fill="#00f"/><polygon points="624.2,325.5 639.8,325.5 632.0,340.0" fill="#00f"/><polygon points="629.8,318.9 645.3,318.9 637.5,333.4" fill="#00f"/><polygon points="635.3,314.1 650.9,314.1 643.1,328.6" fill="#00f"/><polygon points="640.8,310.1 656.4,310.1 648.6,324.6" fill="#00f"/><polygon points="646.3,313.5 661.9,313.5 654.1,328.0" fill="#00f"/><polygon points="651.8,324.0 667.4,324.0 659.6,338.5" fill="#00f"/><polygon points="657.3,330.7 672.9,330.7 665.1,345.2" fill="#00f"/><polygon points="662.8,334.8 678.4,334.8 670.6,349.2" fill="#00f"/><polygon points="668.3,334.7 683.9,334.7 676.1,349.2" fill="#00f"/><polygon points="673.8,333.5 689.4,333.5 681.6,348.0" fill="#00f"/><polygon points="679.3,330.1 694.9,330.1 687.1,344.6" fill="#00f"/><polygon points="684.8,333.7 700.4,333.7 692.6,348.2" fill="#00f"/><polygon points="690.4,335.7 706.0,335.7 698.2,350.2" fill="#00f"/><polygon points="695.9,338.7 711.5,338.7 703.7,353.2" fill="#00f"/><polygon points="701.4,337.8 717.0,337.8 709.2,352.3" fill="#00f"/><polygon points="706.9,322.1 722.5,322.1 714.7,336.6" fill="#00f"/><polygon points="712.4,302.1 728.0,302.1 720.2,316.6" fill="#00f"/><polygon points="717.9,304.8 733.5,304.8 725.7,319.3" fill="#00f"/><polygon points="723.4,322.1 739.0,322.1 731.2,336.6" fill="#00f"/><polygon points="728.9,337.7 744.5,337.7 736.7,352.2" fill="#00f"/><polygon points="734.4,335.3 750.0,335.3 742.2,349.8" fill="#00f"/><polygon points="740.0,338.7 755.5,338.7 747.8,353.2" fill="#00f"/><polygon points="745.5,337.7 761.1,337.7 753.3,352.2" fill="#00f"/><polygon points="751.0,330.7 766.6,330.7 758.8,345.2" fill="#00f"/><polygon points="756.5,324.1 772.1,324.1 764.3,338.6" fill="#00f"/><polygon points="762.0,324.1 777.6,324.1 769.8,338.6" fill="#00f"/><polygon points="767.5,338.0 783.1,338.0 775.3,352.5" fill="#00f"/><polygon points="773.0,350.9 788.6,350.9 780.8,365.4" fill="#00f"/><polygon points="778.5,358.9 794.1,358.9 786.3,373.4" fill="#00f"/><polygon points="784.0,365.8 799.6,365.8 791.8,380.2" fill="#00f"/><polygon points="789.5,365.7 805.1,365.7 797.3,380.2" fill="#00f"/><polygon points="795.0,364.3 810.6,364.3 802.8,378.8" fill="#00f"/><polygon points="800.6,362.1 816.2,362.1 808.4,376.6" fill="#00f"/><polygon points="806.1,366.7 821.7,366.7 813.9,381.2" fill="#00f"/><polygon points="811.6,384.0 827.2,384.0 819.4,398.5" fill="#00f"/>
<polygon points="158.2,306.9 166.3,315.0 158.2,323.1 150.1,315.0" fill="#0ff"/><polygon points="163.7,306.9 171.8,315.0 163.7,323.1 155.6,315.0" fill="#0ff"/><polygon points="169.2,308.9 177.3,317.0 169.2,325.1 161.1,317.0" fill="#0ff"/><polygon points="174.7,312.0 182.8,320.1 174.7,328.2 166.6,320.1" fill="#0ff"/><polygon points="180.2,312.8 188.3,320.9 180.2,329.0 172.1,320.9" fill="#0ff"/><polygon points="185.7,313.6 193.8,321.7 185.7,329.8 177.6,321.7" fill="#0ff"/><polygon points="191.2,314.2 199.3,322.3 191.2,330.4 183.1,322.3" fill="#0ff"/><polygon points="196.8,314.8 204.8,322.9 196.8,331.0 188.7,322.9" fill="#0ff"/><polygon points="202.3,315.4 210.4,323.5 202.3,331.6 194.2,323.5" fill="#0ff"/><polygon points="207.8,316.0 215.9,324.1 207.8,332.2 199.7,324.1" fill="#0ff"/><polygon points="213.3,316.6 221.4,324.7 213.3,332.8 205.2,324.7" fill="#0ff"/><polygon points="218.8,317.2 226.9,325.3 218.8,333.4 210.7,325.3" fill="#0ff"/><polygon points="224.3,317.7 232.4,325.8 224.3,333.9 216.2,325.8" fill="#0ff"/><polygon points="229.8,318.2 237.9,326.3 229.8,334.4 221.7,326.3" fill="#0ff"/><polygon points="235.3,319.2 243.4,327.3 235.3,335.4 227.2,327.3" fill="#0ff"/><polygon points="240.8,320.3 248.9,328.4 240.8,336.5 232.7,328.4" fill="#0ff"/><polygon points="246.3,321.1 254.4,329.2 246.3,337.3 238.2,329.2" fill="#0ff"/><polygon points="251.8,321.5 259.9,329.6 251.8,337.7 243.7,329.6" fill="#0ff"/><polygon points="257.4,321.9 265.5,330.0 257.4,338.1 249.3,330.0" fill="#0ff"/><polygon points="262.9,322.3 271.0,330.4 262.9,338.5 254.8,330.4" fill="#0ff"/><polygon points="268.4,322.8 276.5,330.9 268.4,339.0 260.3,330.9" fill="#0ff"/><polygon points="273.9,323.3 282.0,331.4 273.9,339.5 265.8,331.4" fill="#0ff"/><polygon points="279.4,323.8 287.5,331.9 279.4,340.0 271.3,331.9" fill="#0ff"/><polygon points="284.9,324.4 293.0,332.5 284.9,340.6 276.8,332.5" fill="#0ff"/><polygon points="290.4,325.0 298.5,333.1 290.4,341.2 282.3,333.1" fill="#0ff"/><polygon points="295.9,325.8 304.0,333.9 295.9,342.0 287.8,333.9" fill="#0ff"/><polygon points="301.4,326.6 309.5,334.7 301.4,342.8 293.3,334.7" fill="#0ff"/><polygon points="306.9,327.4 315.1,335.5 306.9,343.6 298.8,335.5" fill="#0ff"/><polygon points="312.5,328.3 320.6,336.4 312.5,344.5 304.4,336.4" fill="#0ff"/><polygon points="318.0,329.1 326.1,337.2 318.0,345.3 309.9,337.2" fill="#0ff"/><polygon points="323.5,329.9 331.6,338.0 323.5,346.1 315.4,338.0" fill="#0ff"/><polygon points="329.0,330.7 337.1,338.8 329.0,346.9 320.9,338.8" fill="#0ff"/><polygon points="334.5,331.0 342.6,339.1 334.5,347.2 326.4,339.1" fill="#0ff"/><polygon points="340.0,331.2 348.1,339.3 340.0,347.4 331.9,339.3" fill="#0ff"/><polygon points="345.5,331.4 353.6,339.5 345.5,347.6 337.4,339.5" fill="#0ff"/><polygon points="351.0,331.6 359.1,339.7 351.0,347.8 342.9,339.7" fill="#0ff"/><polygon points="356.5,331.8 364.6,339.9 356.5,348.0 348.4,339.9" fill="#0ff"/><polygon points="362.0,331.9 370.1,340.0 362.0,348.1 353.9,340.0" fill="#0ff"/><polygon points="367.6,331.9 375.7,340.0 367.6,348.1 359.5,340.0" fill="#0ff"/><polygon points="373.1,331.9 381.2,340.0 373.1,348.1 365.0,340.0" fill="#0ff"/><polygon points="378.6,331.9 386.7,340.0 378.6,348.1 370.5,340.0" fill="#0ff"/><polygon points="384.1,331.9 392.2,340.0 384.1,348.1 376.0,340.0" fill="#0ff"/><polygon points="389.6,331.9 397.7,340.0 389.6,348.1 381.5,340.0" fill="#0ff"/><polygon points="395.1,331.9 403.2,340.0 395.1,348.1 387.0,340.0" fill="#0ff"/><polygon points="400.6,331.9 408.7,340.0 400.6,348.1 392.5,340.0" fill="#0ff"/><polygon points="406.1,332.2 414.2,340.3 406.1,348.4 398.0,340.3" fill="#0ff"/><polygon points="411.6,332.5 419.7,340.6 411.6,348.7 403.5,340.6" fill="#0ff"/><polygon points="417.1,332.8 425.2,340.9 417.1,349.0 409.0,340.9" fill="#0ff"/><polygon points="422.7,333.0 430.8,341.1 422.7,349.2 414.6,341.1" fill="#0ff"/><polygon points="428.2,333.3 436.3,341.4 428.2,349.5 420.1,341.4" fill="#0ff"/><polygon points="433.7,333.6 441.8,341.7 433.7,349.8 425.6,341.7" fill="#0ff"/><polygon points="439.2,333.9 447.3,342.0 439.2,350.1 431.1,342.0" fill="#0ff"/><polygon points="444.7,334.0 452.8,342.1 444.7,350.2 436.6,342.1" fill="#0ff"/><polygon points="450.2,334.2 458.3,342.3 450.2,350.4 442.1,342.3" fill="#0ff"/><polygon points="455.7,334.3 463.8,342.4 455.7,350.5 447.6,342.4" fill="#0ff"/><polygon points="461.2,334.4 469.3,342.5 461.2,350.6 453.1,342.5" fill="#0ff"/><polygon points="466.7,334.6 474.8,342.7 466.7,350.8 458.6,342.7" fill="#0ff"/><polygon points="472.2,334.7 480.4,342.8 472.2,350.9 464.1,342.8" fill="#0ff"/><polygon points="477.8,334.8 485.9,342.9 477.8,351.0 469.7,342.9" fill="#0ff"/><polygon points="483.3,335.1 491.4,343.2 483.3,351.3 475.2,343.2" fill="#0ff"/><polygon points="488.8,335.3 496.9,343.4 488.8,351.5 480.7,343.4" fill="#0ff"/><polygon points="494.3,335.6 502.4,343.7 494.3,351.8 486.2,343.7" fill="#0ff"/><polygon points="499.8,335.9 507.9,344.0 499.8,352.1 491.7,344.0" fill="#0ff"/><polygon points="505.3,335.4 513.4,343.5 505.3,351.6 497.2,343.5" fill="#0ff"/><polygon points="510.8,334.8 518.9,342.9 510.8,351.0 502.7,342.9" fill="#0ff"/><polygon points="516.3,334.2 524.4,342.3 516.3,350.4 508.2,342.3" fill="#0ff"/><polygon points="521.8,333.6 529.9,341.7 521.8,349.8 513.7,341.7" fill="#0ff"/><polygon points="527.3,333.1 535.4,341.2 527.3,349.3 519.2,341.2" fill="#0ff"/><polygon points="532.9,329.2 541.0,337.3 532.9,345.4 524.8,337.3" fill="#0ff"/><polygon points="538.4,329.2 546.5,337.3 538.4,345.4 530.3,337.3" fill="#0ff"/><polygon points="543.9,334.5 552.0,342.6 543.9,350.7 535.8,342.6" fill="#0ff"/><polygon points="549.4,341.2 557.5,349.3 549.4,357.4 541.3,349.3" fill="#0ff"/><polygon points="554.9,347.4 563.0,355.5 554.9,363.6 546.8,355.5" fill="#0ff"/><polygon points="560.4,351.1 568.5,359.2 560.4,367.3 552.3,359.2" fill="#0ff"/><polygon points="565.9,347.7 574.0,355.8 565.9,363.9 557.8,355.8" fill="#0ff"/><polygon points="571.4,340.2 579.5,348.3 571.4,356.4 563.3,348.3" fill="#0ff"/><polygon points="576.9,332.5 585.0,340.6 576.9,348.7 568.8,340.6" fill="#0ff"/><polygon points="582.5,331.4 590.6,339.5 582.5,347.6 574.4,339.5" fill="#0ff"/><polygon points="588.0,332.5 596.1,340.6 588.0,348.7 579.9,340.6" fill="#0ff"/><polygon points="593.5,333.6 601.6,341.7 593.5,349.8 585.4,341.7" fill="#0ff"/><polygon points="599.0,334.7 607.1,342.8 599.0,350.9 590.9,342.8" fill="#0ff"/><polygon points="604.5,334.7 612.6,342.8 604.5,350.9 596.4,342.8" fill="#0ff"/><polygon points="610.0,334.4 618.1,342.5 610.0,350.6 601.9,342.5" fill="#0ff"/><polygon points="615.5,334.1 623.6,342.2 615.5,350.3 607.4,342.2" fill="#0ff"/><polygon points="621.0,334.1 629.1,342.2 621.0,350.3 612.9,342.2" fill="#0ff"/><polygon points="626.5,334.9 634.6,343.0 626.5,351.1 618.4,343.0" fill="#0ff"/><polygon points="632.0,335.7 640.1,343.8 632.0,351.9 623.9,343.8" fill="#0ff"/><polygon points="637.5,336.5 645.6,344.6 637.5,352.7 629.4,344.6" fill="#0ff"/><polygon points="643.1,337.7 651.2,345.8 643.1,353.9 635.0,345.8" fill="#0ff"/><polygon points="648.6,339.0 656.7,347.1 648.6,355.2 640.5,347.1" fill="#0ff"/><polygon points="654.1,340.4 662.2,348.5 654.1,356.6 646.0,348.5" fill="#0ff"/><polygon points="659.6,341.8 667.7,349.9 659.6,358.0 651.5,349.9" fill="#0ff"/><polygon points="665.1,342.2 673.2,350.3 665.1,358.4 657.0,350.3" fill="#0ff"/><polygon points="670.6,342.6 678.7,350.7 670.6,358.8 662.5,350.7" fill="#0ff"/><polygon points="676.1,343.0 684.2,351.1 676.1,359.2 668.0,351.1" fill="#0ff"/><polygon points="681.6,343.3 689.7,351.4 681.6,359.5 673.5,351.4" fill="#0ff"/><polygon points="687.1,343.7 695.2,351.8 687.1,359.9 679.0,351.8" fill="#0ff"/><polygon points="692.6,343.6 700.7,351.7 692.6,359.8 684.5,351.7" fill="#0ff"/><polygon points="698.2,343.1 706.3,351.2 698.2,359.3 690.1,351.2" fill="#0ff"/><polygon points="703.7,341.1 711.8,349.2 703.7,357.3 695.6,349.2" fill="#0ff"/><polygon points="709.2,338.3 717.3,346.4 709.2,354.5 701.1,346.4" fill="#0ff"/><polygon points="714.7,337.9 722.8,346.0 714.7,354.1 706.6,346.0" fill="#0ff"/><polygon points="720.2,337.9 728.3,346.0 720.2,354.1 712.1,346.0" fill="#0ff"/><polygon points="725.7,337.9 733.8,346.0 725.7,354.1 717.6,346.0" fill="#0ff"/><polygon points="731.2,337.9 739.3,346.0 731.2,354.1 723.1,346.0" fill="#0ff"/><polygon points="736.7,338.6 744.8,346.7 736.7,354.8 728.6,346.7" fill="#0ff"/><polygon points="742.2,340.8 750.3,348.9 742.2,357.0 734.1,348.9" fill="#0ff"/><polygon points="747.8,343.8 755.9,351.9 747.8,360.0 739.6,351.9" fill="#0ff"/><polygon points="753.3,347.7 761.4,355.8 753.3,363.9 745.2,355.8" fill="#0ff"/><polygon points="758.8,348.5 766.9,356.6 758.8,364.7 750.7,356.6" fill="#0ff"/><polygon points="764.3,348.0 772.4,356.1 764.3,364.2 756.2,356.1" fill="#0ff"/><polygon points="769.8,346.6 777.9,354.7 769.8,362.8 761.7,354.7" fill="#0ff"/><polygon points="775.3,345.2 783.4,353.3 775.3,361.4 767.2,353.3" fill="#0ff"/><polygon points="780.8,344.2 788.9,352.3 780.8,360.4 772.7,352.3" fill="#0ff"/><polygon points="786.3,346.4 794.4,354.5 786.3,362.6 778.2,354.5" fill="#0ff"/><polygon points="791.8,348.6 799.9,356.7 791.8,364.8 783.7,356.7" fill="#0ff"/><polygon points="797.3,350.8 805.4,358.9 797.3,367.0 789.2,358.9" fill="#0ff"/><polygon points="802.8,353.3 810.9,361.4 802.8,369.5 794.7,361.4" fill="#0ff"/><polygon points="808.4,356.1 816.5,364.2 808.4,372.3 800.3,364.2" fill="#0ff"/><polygon points="813.9,359.0 822.0,367.1 813.9,375.2 805.8,367.1" fill="#0ff"/><polygon points="819.4,361.9 827.5,370.0 819.4,378.1 811.3,370.0" fill="#0ff"/><polygon points="824.9,364.9 833.0,373.0 824.9,381.1 816.8,373.0" fill="#0ff"/><polygon points="830.4,368.9 838.5,377.0 830.4,385.1 822.3,377.0" fill="#0ff"/><polygon points="835.9,321.9 844.0,330.0 835.9,338.1 827.8,330.0" fill="#0ff"/><polygon points="841.4,320.9 849.5,329.0 841.4,337.1 833.3,329.0" fill="#0ff"/><polygon points="846.9,328.2 855.0,336.3 846.9,344.4 838.8,336.3" fill="#0ff"/><polygon points="852.4,335.8 860.5,343.9 852.4,352.0 844.3,343.9" fill="#0ff"/><polygon points="858.0,342.2 866.1,350.3 858.0,358.4 849.9,350.3" fill="#0ff"/><polygon points="863.5,345.2 871.6,353.3 863.5,361.4 855.4,353.3" fill="#0ff"/><polygon points="869.0,343.1 877.1,351.2 869.0,359.3 860.9,351.2" fill="#0ff"/><polygon points="874.5,340.4 882.6,348.5 874.5,356.6 866.4,348.5" fill="#0ff"/><polygon points="880.0,338.0 888.1,346.1 880.0,354.2 871.9,346.1" fill="#0ff"/><polygon points="885.5,337.2 893.6,345.3 885.5,353.4 877.4,345.3" fill="#0ff"/><polygon points="891.0,338.8 899.1,346.9 891.0,355.0 882.9,346.9" fill="#0ff"/><polygon points="896.5,341.0 904.6,349.1 896.5,357.2 888.4,349.1" fill="#0ff"/><polygon points="902.0,342.8 910.1,350.9 902.0,359.0 893.9,350.9" fill="#0ff"/><polygon points="907.5,343.6 915.6,351.7 907.5,359.8 899.4,351.7" fill="#0ff"/><polygon points="913.0,343.0 921.1,351.1 913.0,359.2 904.9,351.1" fill="#0ff"/><polygon points="918.6,341.8 926.7,349.9 918.6,358.0 910.5,349.9" fill="#0ff"/><polygon points="924.1,341.2 932.2,349.3 924.1,357.4 916.0,349.3" fill="#0ff"/><polygon points="929.6,341.2 937.7,349.3 929.6,357.4 921.5,349.3" fill="#0ff"/><polygon points="935.1,341.4 943.2,349.5 935.1,357.6 927.0,349.5" fill="#0ff"/><polygon points="940.6,340.4 948.7,348.5 940.6,356.6 932.5,348.5" fill="#0ff"/><polygon points="946.1,338.3 954.2,346.4 946.1,354.5 938.0,346.4" fill="#0ff"/><polygon points="951.6,336.7 959.7,344.8 951.6,352.9 943.5,344.8" fill="#0ff"/><polygon points="957.1,336.0 965.2,344.1 957.1,352.2 949.0,344.1" fill="#0ff"/><polygon points="962.6,337.2 970.7,345.3 962.6,353.4 954.5,345.3" fill="#0ff"/><polygon points="968.1,340.3 976.2,348.4 968.1,356.5 960.0,348.4" fill="#0ff"/><polygon points="973.7,344.2 981.8,352.3 973.7,360.4 965.6,352.3" fill="#0ff"/><polygon points="979.2,347.4 987.3,355.5 979.2,363.6 971.1,355.5" fill="#0ff"/>
<polygon points="148.5,303.0 163.0,295.2 163.0,310.8" fill="#f0f"/><polygon points="154.0,303.0 168.5,295.2 168.5,310.8" fill="#f0f"/><polygon points="159.5,303.0 174.0,295.2 174.0,310.8" fill="#f0f"/><polygon points="165.1,305.7 179.6,297.9 179.6,313.5" fill="#f0f"/><polygon points="170.6,305.5 185.1,297.7 185.1,313.3" fill="#f0f"/><polygon points="176.1,306.7 190.6,298.9 190.6,314.5" fill="#f0f"/><polygon points="181.6,308.9 196.1,301.1 196.1,316.7" fill="#f0f"/><polygon points="187.1,308.9 201.6,301.1 201.6,316.7" fill="#f0f"/><polygon points="192.6,310.4 207.1,302.6 207.1,318.2" fill="#f0f"/><polygon points="198.1,311.2 212.6,303.4 212.6,319.0" fill="#f0f"/><polygon points="203.6,311.6 218.1,303.8 218.1,319.4" fill="#f0f"/><polygon points="209.1,312.5 223.6,304.7 223.6,320.3" fill="#f0f"/><polygon points="214.6,312.5 229.1,304.7 229.1,320.3" fill="#f0f"/><polygon points="220.2,312.8 234.7,305.0 234.7,320.6" fill="#f0f"/><polygon points="225.7,313.7 240.2,305.9 240.2,321.5" fill="#f0f"/><polygon points="231.2,314.4 245.7,306.6 245.7,322.2" fill="#f0f"/><polygon points="236.7,315.6 251.2,307.8 251.2,323.4" fill="#f0f"/><polygon points="242.2,317.8 256.7,310.0 256.7,325.6" fill="#f0f"/><polygon points="247.7,319.2 262.2,311.4 262.2,327.0" fill="#f0f"/><polygon points="253.2,320.3 267.7,312.5 267.7,328.1" fill="#f0f"/><polygon points="258.7,320.9 273.2,313.1 273.2,328.7" fill="#f0f"/><polygon points="264.2,321.4 278.7,313.6 278.7,329.2" fill="#f0f"/><polygon points="269.8,322.0 284.2,314.2 284.2,329.8" fill="#f0f"/><polygon points="275.3,322.6 289.8,314.8 289.8,330.4" fill="#f0f"/><polygon points="280.8,323.4 295.3,315.6 295.3,331.2" fill="#f0f"/><polygon points="286.3,324.4 300.8,316.6 300.8,332.2" fill="#f0f"/><polygon points="291.8,325.4 306.3,317.6 306.3,333.2" fill="#f0f"/><polygon points="297.3,326.1 311.8,318.3 311.8,333.9" fill="#f0f"/><polygon points="302.8,327.0 317.3,319.2 317.3,334.8" fill="#f0f"/><polygon points="308.3,329.0 322.8,321.2 322.8,336.8" fill="#f0f"/><polygon points="313.8,330.6 328.3,322.8 328.3,338.4" fill="#f0f"/><polygon points="319.3,330.9 333.8,323.1 333.8,338.7" fill="#f0f"/><polygon points="324.9,331.2 339.4,323.4 339.4,339.0" fill="#f0f"/><polygon points="330.4,331.5 344.9,323.7 344.9,339.3" fill="#f0f"/><polygon points="335.9,332.0 350.4,324.2 350.4,339.8" fill="#f0f"/><polygon points="341.4,332.6 355.9,324.8 355.9,340.4" fill="#f0f"/><polygon points="346.9,333.0 361.4,325.2 361.4,340.8" fill="#f0f"/><polygon points="352.4,332.8 366.9,325.0 366.9,340.6" fill="#f0f"/><polygon points="357.9,332.7 372.4,324.9 372.4,340.5" fill="#f0f"/><polygon points="363.4,332.4 377.9,324.6 377.9,340.2" fill="#f0f"/><polygon points="368.9,331.6 383.4,323.8 383.4,339.4" fill="#f0f"/><polygon points="374.4,330.8 388.9,323.0 388.9,338.6" fill="#f0f"/><polygon points="379.9,330.3 394.4,322.5 394.4,338.1" fill="#f0f"/><polygon points="385.5,330.9 400.0,323.1 400.0,338.7" fill="#f0f"/><polygon points="391.0,331.4 405.5,323.6 405.5,339.2" fill="#f0f"/><polygon points="396.5,331.4 411.0,323.6 411.0,339.2" fill="#f0f"/><polygon points="402.0,329.5 416.5,321.7 416.5,337.3" fill="#f0f"/><polygon points="407.5,327.9 422.0,320.1 422.0,335.7" fill="#f0f"/><polygon points="413.0,327.6 427.5,319.8 427.5,335.4" fill="#f0f"/><polygon points="418.5,331.2 433.0,323.4 433.0,339.0" fill="#f0f"/><polygon points="424.0,334.8 438.5,327.0 438.5,342.6" fill="#f0f"/><polygon points="429.5,338.0 444.0,330.2 444.0,345.8" fill="#f0f"/><polygon points="435.1,339.5 449.6,331.7 449.6,347.3" fill="#f0f"/><polygon points="440.6,337.7 455.1,329.9 455.1,345.5" fill="#f0f"/><polygon points="446.1,334.8 460.6,327.0 460.6,342.6" fill="#f0f"/><polygon points="451.6,333.4 466.1,325.6 466.1,341.2" fill="#f0f"/><polygon points="457.1,332.0 471.6,324.2 471.6,339.8" fill="#f0f"/><polygon points="462.6,331.5 477.1,323.7 477.1,339.3" fill="#f0f"/><polygon points="468.1,333.7 482.6,325.9 482.6,341.5" fill="#f0f"/><polygon points="473.6,335.8 488.1,328.0 488.1,343.6" fill="#f0f"/><polygon points="479.1,336.9 493.6,329.1 493.6,344.7" fill="#f0f"/><polygon points="484.6,336.2 499.1,328.4 499.1,344.0" fill="#f0f"/><polygon points="490.1,336.8 504.6,329.0 504.6,344.6" fill="#f0f"/><polygon points="495.7,336.9 510.2,329.1 510.2,344.7" fill="#f0f"/><polygon points="501.2,338.4 515.7,330.6 515.7,346.2" fill="#f0f"/><polygon points="506.7,339.6 521.2,331.8 521.2,347.4" fill="#f0f"/><polygon points="512.2,339.2 526.7,331.4 526.7,347.0" fill="#f0f"/><polygon points="517.7,336.9 532.2,329.1 532.2,344.7" fill="#f0f"/><polygon points="523.2,333.5 537.7,325.7 537.7,341.3" fill="#f0f"/><polygon points="528.7,330.2 543.2,322.4 543.2,338.0" fill="#f0f"/><polygon points="534.2,330.7 548.7,322.9 548.7,338.5" fill="#f0f"/><polygon points="539.7,334.0 554.2,326.2 554.2,341.8" fill="#f0f"/><polygon points="545.2,337.3 559.8,329.5 559.8,345.1" fill="#f0f"/><polygon points="550.8,341.4 565.3,333.6 565.3,349.2" fill="#f0f"/><polygon points="556.3,339.4 570.8,331.6 570.8,347.2" fill="#f0f"/><polygon points="561.8,334.5 576.3,326.7 576.3,342.3" fill="#f0f"/><polygon points="567.3,330.6 581.8,322.8 581.8,338.4" fill="#f0f"/><polygon points="572.8,329.7 587.3,321.9 587.3,337.5" fill="#f0f"/><polygon points="578.3,333.6 592.8,325.8 592.8,341.4" fill="#f0f"/><polygon points="583.8,336.9 598.3,329.1 598.3,344.7" fill="#f0f"/><polygon points="589.3,339.1 603.8,331.3 603.8,346.9" fill="#f0f"/><polygon points="594.8,340.4 609.3,332.6 609.3,348.2" fill="#f0f"/><polygon points="600.4,340.8 614.9,333.0 614.9,348.6" fill="#f0f"/><polygon points="605.9,341.6 620.4,333.8 620.4,349.4" fill="#f0f"/><polygon points="611.4,343.8 625.9,336.0 625.9,351.6" fill="#f0f"/><polygon points="616.9,346.0 631.4,338.2 631.4,353.8" fill="#f0f"/><polygon points="622.4,345.3 636.9,337.5 636.9,353.1" fill="#f0f"/><polygon points="627.9,343.4 642.4,335.6 642.4,351.2" fill="#f0f"/><polygon points="633.4,340.7 647.9,332.9 647.9,348.5" fill="#f0f"/><polygon points="638.9,337.6 653.4,329.8 653.4,345.4" fill="#f0f"/><polygon points="644.4,335.4 658.9,327.6 658.9,343.2" fill="#f0f"/><polygon points="649.9,334.2 664.4,326.4 664.4,342.0" fill="#f0f"/><polygon points="655.4,335.5 669.9,327.7 669.9,343.3" fill="#f0f"/><polygon points="661.0,339.8 675.5,332.0 675.5,347.6" fill="#f0f"/><polygon points="666.5,345.5 681.0,337.7 681.0,353.3" fill="#f0f"/><polygon points="672.0,344.4 686.5,336.6 686.5,352.2" fill="#f0f"/><polygon points="677.5,343.3 692.0,335.5 692.0,351.1" fill="#f0f"/><polygon points="683.0,342.1 697.5,334.3 697.5,349.9" fill="#f0f"/><polygon points="688.5,340.4 703.0,332.6 703.0,348.2" fill="#f0f"/><polygon points="694.0,338.7 708.5,330.9 708.5,346.5" fill="#f0f"/><polygon points="699.5,337.5 714.0,329.7 714.0,345.3" fill="#f0f"/><polygon points="705.0,338.6 719.5,330.8 719.5,346.4" fill="#f0f"/><polygon points="710.6,339.6 725.1,331.8 725.1,347.4" fill="#f0f"/><polygon points="716.1,341.2 730.6,333.4 730.6,349.0" fill="#f0f"/><polygon points="721.6,345.2 736.1,337.4 736.1,353.0" fill="#f0f"/><polygon points="727.1,351.4 741.6,343.6 741.6,359.2" fill="#f0f"/><polygon points="732.6,354.6 747.1,346.8 747.1,362.4" fill="#f0f"/><polygon points="738.1,350.7 752.6,342.9 752.6,358.5" fill="#f0f"/><polygon points="743.6,344.4 758.1,336.6 758.1,352.2" fill="#f0f"/><polygon points="749.1,340.2 763.6,332.4 763.6,348.0" fill="#f0f"/><polygon points="754.6,337.1 769.1,329.3 769.1,344.9" fill="#f0f"/><polygon points="760.1,336.3 774.6,328.5 774.6,344.1" fill="#f0f"/><polygon points="765.6,341.3 780.1,333.5 780.1,349.1" fill="#f0f"/><polygon points="771.2,346.9 785.7,339.1 785.7,354.7" fill="#f0f"/><polygon points="776.7,351.4 791.2,343.6 791.2,359.2" fill="#f0f"/><polygon points="782.2,353.5 796.7,345.7 796.7,361.3" fill="#f0f"/><polygon points="787.7,352.9 802.2,345.1 802.2,360.7" fill="#f0f"/><polygon points="793.2,351.7 807.7,343.9 807.7,359.5" fill="#f0f"/><polygon points="798.7,347.5 813.2,339.7 813.2,355.3" fill="#f0f"/><polygon points="804.2,344.4 818.7,336.6 818.7,352.2" fill="#f0f"/><polygon points="809.7,343.2 824.2,335.4 824.2,351.0" fill="#f0f"/><polygon points="815.2,345.9 829.7,338.1 829.7,353.7" fill="#f0f"/><polygon points="820.7,348.9 835.2,341.1 835.2,356.7" fill="#f0f"/><polygon points="826.3,351.9 840.8,344.1 840.8,359.7" fill="#f0f"/><polygon points="831.8,353.5 846.3,345.7 846.3,361.3" fill="#f0f"/><polygon points="837.3,353.2 851.8,345.4 851.8,361.0" fill="#f0f"/><polygon points="842.8,357.1 857.3,349.3 857.3,364.9" fill="#f0f"/><polygon points="848.3,359.7 862.8,351.9 862.8,367.5" fill="#f0f"/><polygon points="853.8,358.7 868.3,350.9 868.3,366.5" fill="#f0f"/><polygon points="859.3,357.5 873.8,349.7 873.8,365.3" fill="#f0f"/><polygon points="864.8,354.8 879.3,347.0 879.3,362.6" fill="#f0f"/><polygon points="870.3,351.8 884.8,344.0 884.8,359.6" fill="#f0f"/><polygon points="875.9,351.1 890.4,343.3 890.4,358.9" fill="#f0f"/><polygon points="881.4,351.7 895.9,343.9 895.9,359.5" fill="#f0f"/><polygon points="886.9,353.2 901.4,345.4 901.4,361.0" fill="#f0f"/><polygon points="892.4,355.3 906.9,347.5 906.9,363.1" fill="#f0f"/><polygon points="897.9,357.0 912.4,349.2 912.4,364.8" fill="#f0f"/><polygon points="903.4,357.5 917.9,349.7 917.9,365.3" fill="#f0f"/><polygon points="908.9,356.4 923.4,348.6 923.4,364.2" fill="#f0f"/><polygon points="914.4,354.3 928.9,346.5 928.9,362.1" fill="#f0f"/><polygon points="919.9,352.0 934.4,344.2 934.4,359.8" fill="#f0f"/><polygon points="925.4,351.2 939.9,343.4 939.9,359.0" fill="#f0f"/><polygon points="930.9,351.0 945.4,343.2 945.4,358.8" fill="#f0f"/><polygon points="936.5,351.3 951.0,343.5 951.0,359.1" fill="#f0f"/><polygon points="942.0,352.1 956.5,344.3 956.5,359.9" fill="#f0f"/><polygon points="947.5,353.7 962.0,345.9 962.0,361.5" fill="#f0f"/><polygon points="953.0,356.4 967.5,348.6 967.5,364.2" fill="#f0f"/><polygon points="958.5,359.5 973.0,351.7 973.0,367.3" fill="#f0f"/><polygon points="964.0,362.7 978.5,354.9 978.5,370.5" fill="#f0f"/><polygon points="969.5,367.2 984.0,359.4 984.0,375.0" fill="#f0f"/>
<polygon points="167.8,357.0 153.3,349.2 153.3,364.8" fill="#ff0"/><polygon points="173.3,357.0 158.8,349.2 158.8,364.8" fill="#ff0"/><polygon points="178.8,356.5 164.3,348.7 164.3,364.3" fill="#ff0"/><polygon points="184.4,352.0 169.9,344.2 169.9,359.8" fill="#ff0"/><polygon points="189.9,350.0 175.4,342.2 175.4,357.8" fill="#ff0"/><polygon points="195.4,349.5 180.9,341.7 180.9,357.3" fill="#ff0"/><polygon points="200.9,347.9 186.4,340.1 186.4,355.7" fill="#ff0"/><polygon points="206.4,346.3 191.9,338.5 191.9,354.1" fill="#ff0"/><polygon points="211.9,344.5 197.4,336.7 197.4,352.3" fill="#ff0"/><polygon points="217.4,342.3 202.9,334.5 202.9,350.1" fill="#ff0"/><polygon points="222.9,340.1 208.4,332.3 208.4,347.9" fill="#ff0"/><polygon points="228.4,339.6 213.9,331.8 213.9,347.4" fill="#ff0"/><polygon points="233.9,339.3 219.4,331.5 219.4,347.1" fill="#ff0"/><polygon points="239.5,340.0 225.0,332.2 225.0,347.8" fill="#ff0"/><polygon points="245.0,340.7 230.5,332.9 230.5,348.5" fill="#ff0"/><polygon points="250.5,341.3 236.0,333.5 236.0,349.1" fill="#ff0"/><polygon points="256.0,341.3 241.5,333.5 241.5,349.1" fill="#ff0"/><polygon points="261.5,341.2 247.0,333.4 247.0,349.0" fill="#ff0"/><polygon points="267.0,340.9 252.5,333.1 252.5,348.7" fill="#ff0"/><polygon points="272.5,340.2 258.0,332.4 258.0,348.0" fill="#ff0"/><polygon points="278.0,342.4 263.5,334.6 263.5,350.2" fill="#ff0"/><polygon points="283.5,344.2 269.0,336.4 269.0,352.0" fill="#ff0"/><polygon points="289.0,346.7 274.5,338.9 274.5,354.5" fill="#ff0"/><polygon points="294.6,346.2 280.1,338.4 280.1,354.0" fill="#ff0"/><polygon points="300.1,344.2 285.6,336.4 285.6,352.0" fill="#ff0"/><polygon points="305.6,343.2 291.1,335.4 291.1,351.0" fill="#ff0"/><polygon points="311.1,342.1 296.6,334.3 296.6,349.9" fill="#ff0"/><polygon points="316.6,341.2 302.1,333.4 302.1,349.0" fill="#ff0"/><polygon points="322.1,344.7 307.6,336.9 307.6,352.5" fill="#ff0"/><polygon points="327.6,349.7 313.1,341.9 313.1,357.5" fill="#ff0"/><polygon points="333.1,352.5 318.6,344.7 318.6,360.3" fill="#ff0"/><polygon points="338.6,351.2 324.1,343.4 324.1,359.0" fill="#ff0"/><polygon points="344.1,349.3 329.6,341.5 329.6,357.1" fill="#ff0"/><polygon points="349.7,348.2 335.2,340.4 335.2,356.0" fill="#ff0"/><polygon points="355.2,350.3 340.7,342.5 340.7,358.1" fill="#ff0"/><polygon points="360.7,352.8 346.2,345.0 346.2,360.6" fill="#ff0"/><polygon points="366.2,353.9 351.7,346.1 351.7,361.7" fill="#ff0"/><polygon points="371.7,353.9 357.2,346.1 357.2,361.7" fill="#ff0"/><polygon points="377.2,352.5 362.7,344.7 362.7,360.3" fill="#ff0"/><polygon points="382.7,347.6 368.2,339.8 368.2,355.4" fill="#ff0"/><polygon points="388.2,346.1 373.7,338.3 373.7,353.9" fill="#ff0"/><polygon points="393.7,348.4 379.2,340.6 379.2,356.2" fill="#ff0"/><polygon points="399.2,353.2 384.7,345.4 384.7,361.0" fill="#ff0"/><polygon points="404.8,357.1 390.3,349.3 390.3,364.9" fill="#ff0"/><polygon points="410.3,357.2 395.8,349.4 395.8,365.0" fill="#ff0"/><polygon points="415.8,351.4 401.3,343.6 401.3,359.2" fill="#ff0"/><polygon points="421.3,345.3 406.8,337.5 406.8,353.1" fill="#ff0"/><polygon points="426.8,340.9 412.3,333.1 412.3,348.7" fill="#ff0"/><polygon points="432.3,343.4 417.8,335.6 417.8,351.2" fill="#ff0"/><polygon points="437.8,351.4 423.3,343.6 423.3,359.2" fill="#ff0"/><polygon points="443.3,357.4 428.8,349.6 428.8,365.2" fill="#ff0"/><polygon points="448.8,359.5 434.3,351.7 434.3,367.3" fill="#ff0"/><polygon points="454.3,354.3 439.8,346.5 439.8,362.1" fill="#ff0"/><polygon points="459.9,348.5 445.4,340.7 445.4,356.3" fill="#ff0"/><polygon points="465.4,343.0 450.9,335.2 450.9,350.8" fill="#ff0"/><polygon points="470.9,340.9 456.4,333.1 456.4,348.7" fill="#ff0"/><polygon points="476.4,344.9 461.9,337.1 461.9,352.7" fill="#ff0"/><polygon points="481.9,351.5 467.4,343.7 467.4,359.3" fill="#ff0"/><polygon points="487.4,354.3 472.9,346.5 472.9,362.1" fill="#ff0"/><polygon points="492.9,351.1 478.4,343.3 478.4,358.9" fill="#ff0"/><polygon points="498.4,346.2 483.9,338.4 483.9,354.0" fill="#ff0"/><polygon points="503.9,340.7 489.4,332.9 489.4,348.5" fill="#ff0"/><polygon points="509.4,339.1 494.9,331.3 494.9,346.9" fill="#ff0"/><polygon points="515.0,344.8 500.5,337.0 500.5,352.6" fill="#ff0"/><polygon points="520.5,351.4 506.0,343.6 506.0,359.2" fill="#ff0"/><polygon points="526.0,356.6 511.5,348.8 511.5,364.4" fill="#ff0"/><polygon points="531.5,350.3 517.0,342.5 517.0,358.1" fill="#ff0"/><polygon points="537.0,342.9 522.5,335.1 522.5,350.7" fill="#ff0"/><polygon points="542.5,335.5 528.0,327.7 528.0,343.3" fill="#ff0"/><polygon points="548.0,333.0 533.5,325.2 533.5,340.8" fill="#ff0"/><polygon points="553.5,335.5 539.0,327.7 539.0,343.3" fill="#ff0"/><polygon points="559.0,341.5 544.5,333.7 544.5,349.3" fill="#ff0"/><polygon points="564.5,347.3 550.0,339.5 550.0,355.1" fill="#ff0"/><polygon points="570.1,349.9 555.6,342.1 555.6,357.7" fill="#ff0"/><polygon points="575.6,340.2 561.1,332.4 561.1,348.0" fill="#ff0"/><polygon points="581.1,318.7 566.6,310.9 566.6,326.5" fill="#ff0"/><polygon points="586.6,304.5 572.1,296.7 572.1,312.3" fill="#ff0"/><polygon points="592.1,328.4 577.6,320.6 577.6,336.2" fill="#ff0"/><polygon points="597.6,346.9 583.1,339.1 583.1,354.7" fill="#ff0"/><polygon points="603.1,354.4 588.6,346.6 588.6,362.2" fill="#ff0"/><polygon points="608.6,348.2 594.1,340.4 594.1,356.0" fill="#ff0"/><polygon points="614.1,339.9 599.6,332.1 599.6,347.7" fill="#ff0"/><polygon points="619.6,331.2 605.1,323.4 605.1,339.0" fill="#ff0"/><polygon points="625.2,348.8 610.7,341.0 610.7,356.6" fill="#ff0"/><polygon points="630.7,365.6 616.2,357.8 616.2,373.4" fill="#ff0"/><polygon points="636.2,370.8 621.7,363.0 621.7,378.6" fill="#ff0"/><polygon points="641.7,366.1 627.2,358.3 627.2,373.9" fill="#ff0"/><polygon points="647.2,360.7 632.7,352.9 632.7,368.5" fill="#ff0"/><polygon points="652.7,350.4 638.2,342.6 638.2,358.2" fill="#ff0"/><polygon points="658.2,343.1 643.7,335.3 643.7,350.9" fill="#ff0"/><polygon points="663.7,340.9 649.2,333.1 649.2,348.7" fill="#ff0"/><polygon points="669.2,344.4 654.7,336.6 654.7,352.2" fill="#ff0"/><polygon points="674.7,349.9 660.2,342.1 660.2,357.7" fill="#ff0"/><polygon points="680.3,358.7 665.8,350.9 665.8,366.5" fill="#ff0"/><polygon points="685.8,357.5 671.3,349.7 671.3,365.3" fill="#ff0"/><polygon points="691.3,351.1 676.8,343.3 676.8,358.9" fill="#ff0"/><polygon points="696.8,344.7 682.3,336.9 682.3,352.5" fill="#ff0"/><polygon points="702.3,339.5 687.8,331.7 687.8,347.3" fill="#ff0"/><polygon points="707.8,338.0 693.3,330.2 693.3,345.8" fill="#ff0"/><polygon points="713.3,347.1 698.8,339.3 698.8,354.9" fill="#ff0"/><polygon points="718.8,356.7 704.3,348.9 704.3,364.5" fill="#ff0"/><polygon points="724.3,360.2 709.8,352.4 709.8,368.0" fill="#ff0"/><polygon points="729.9,346.8 715.4,339.0 715.4,354.6" fill="#ff0"/><polygon points="735.4,342.6 720.9,334.8 720.9,350.4" fill="#ff0"/><polygon points="740.9,346.1 726.4,338.3 726.4,353.9" fill="#ff0"/><polygon points="746.4,351.0 731.9,343.2 731.9,358.8" fill="#ff0"/><polygon points="751.9,355.7 737.4,347.9 737.4,363.5" fill="#ff0"/><polygon points="757.4,358.6 742.9,350.8 742.9,366.4" fill="#ff0"/><polygon points="762.9,358.5 748.4,350.7 748.4,366.3" fill="#ff0"/><polygon points="768.4,350.6 753.9,342.8 753.9,358.4" fill="#ff0"/><polygon points="773.9,344.8 759.4,337.0 759.4,352.6" fill="#ff0"/><polygon points="779.4,341.1 764.9,333.3 764.9,348.9" fill="#ff0"/><polygon points="784.9,343.9 770.4,336.1 770.4,351.7" fill="#ff0"/><polygon points="790.5,349.2 776.0,341.4 776.0,357.0" fill="#ff0"/><polygon points="796.0,354.7 781.5,346.9 781.5,362.5" fill="#ff0"/><polygon points="801.5,358.5 787.0,350.7 787.0,366.3" fill="#ff0"/><polygon points="807.0,360.6 792.5,352.8 792.5,368.4" fill="#ff0"/><polygon points="812.5,354.3 798.0,346.5 798.0,362.1" fill="#ff0"/><polygon points="818.0,348.7 803.5,340.9 803.5,356.5" fill="#ff0"/><polygon points="823.5,333.7 809.0,325.9 809.0,341.5" fill="#ff0"/><polygon points="829.0,314.6 814.5,306.8 814.5,322.4" fill="#ff0"/><polygon points="834.5,288.0 820.0,280.2 820.0,295.8" fill="#ff0"/><polygon points="840.0,185.5 825.5,177.7 825.5,193.3" fill="#ff0"/><polygon points="845.6,270.9 831.1,263.1 831.1,278.7" fill="#ff0"/><polygon points="851.1,341.0 836.6,333.2 836.6,348.8" fill="#ff0"/><polygon points="856.6,365.5 842.1,357.7 842.1,373.3" fill="#ff0"/><polygon points="862.1,386.4 847.6,378.6 847.6,394.2" fill="#ff0"/><polygon points="867.6,391.5 853.1,383.7 853.1,399.3" fill="#ff0"/><polygon points="873.1,385.2 858.6,377.4 858.6,393.0" fill="#ff0"/><polygon points="878.6,371.0 864.1,363.2 864.1,378.8" fill="#ff0"/><polygon points="884.1,360.2 869.6,352.4 869.6,368.0" fill="#ff0"/><polygon points="889.6,352.8 875.1,345.0 875.1,360.6" fill="#ff0"/><polygon points="895.1,352.0 880.6,344.2 880.6,359.8" fill="#ff0"/><polygon points="900.7,352.0 886.2,344.2 886.2,359.8" fill="#ff0"/><polygon points="906.2,352.0 891.7,344.2 891.7,359.8" fill="#ff0"/><polygon points="911.7,352.0 897.2,344.2 897.2,359.8" fill="#ff0"/><polygon points="917.2,352.0 902.7,344.2 902.7,359.8" fill="#ff0"/><polygon points="922.7,352.0 908.2,344.2 908.2,359.8" fill="#ff0"/><polygon points="928.2,354.5 913.7,346.7 913.7,362.3" fill="#ff0"/><polygon points="933.7,368.8 919.2,361.0 919.2,376.6" fill="#ff0"/><polygon points="939.2,377.2 924.7,369.4 924.7,385.0" fill="#ff0"/><polygon points="944.7,377.1 930.2,369.3 930.2,384.9" fill="#ff0"/><polygon points="950.2,366.8 935.7,359.0 935.7,374.6" fill="#ff0"/><polygon points="955.8,354.6 941.3,346.8 941.3,362.4" fill="#ff0"/><polygon points="961.3,350.7 946.8,342.9 946.8,358.5" fill="#ff0"/><polygon points="966.8,350.0 952.3,342.2 952.3,357.8" fill="#ff0"/><polygon points="972.3,350.0 957.8,342.2 957.8,357.8" fill="#ff0"/><polygon points="977.8,350.8 963.3,343.0 963.3,358.6" fill="#ff0"/><polygon points="983.3,351.6 968.8,343.8 968.8,359.4" fill="#ff0"/><polygon points="988.8,352.0 974.3,344.2 974.3,359.8" fill="#ff0"/></g>

<rect x="228.1" y="44.1" width="15.3" height="15.2" fill="#000"/>
<circle cx="418.7" cy="51.7" r="8.7" fill="#f00"/>
<polygon points="601.3,40 611.6,58 591,58" fill="#0f0"/>
<polygon points="773.6,45.4 794.4,45.4 784,64" fill="#00f"/>
<polygon points="236,85.6 247,96.6 236,107.6 225,96.6" fill="#0ff"/>
<polygon points="407,96.4 425,86.4 425,106.4" fill="#f0f"/>
<polygon points="613,96.4 595,86.4 595,106.4" fill="#ff0"/>
<text x="287" y="63.8" class="lg">120K</text>
<text x="470" y="63.8" class="lg">160K</text>
<text x="652.5" y="63.8" class="lg">200K</text>
<text x="835" y="63.8" class="lg">240K</text>
<text x="287" y="108.3" class="lg">280K</text>
<text x="470" y="108.3" class="lg">300K</text>
<text x="652.5" y="108.3" class="lg">320K</text>

</svg>
</body></html>
